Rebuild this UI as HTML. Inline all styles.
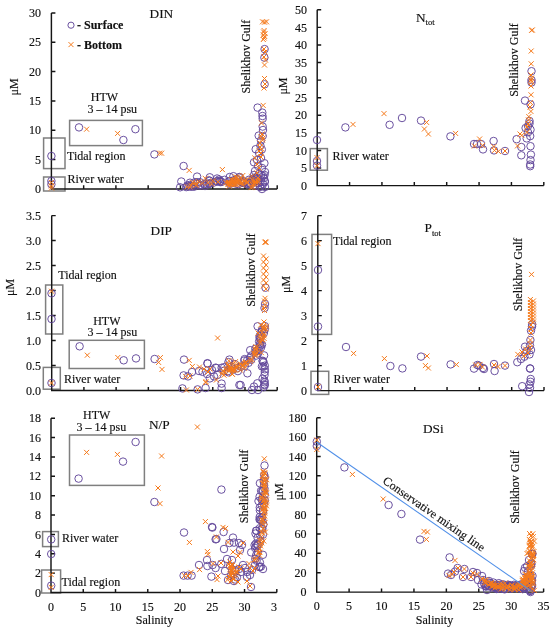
<!DOCTYPE html>
<html><head><meta charset="utf-8"><title>Nutrients vs salinity</title>
<style>html,body{margin:0;padding:0;background:#fff}svg{display:block}text{font-family:"Liberation Serif",serif;font-size:12px;fill:#111;stroke:#111;stroke-width:0.15px}</style></head>
<body>
<svg width="550" height="631" viewBox="0 0 550 631">
<rect width="550" height="631" fill="#fff"/>
<g fill="none" stroke="#7f7f7f" stroke-width="1.5">
<rect x="69.6" y="120.4" width="72.8" height="25.2"/>
<rect x="43.6" y="138" width="21.4" height="30.6"/>
<rect x="43.6" y="177" width="21.4" height="14.0"/>
<rect x="310.2" y="148.6" width="17.2" height="21.6"/>
<rect x="45.6" y="285" width="17.2" height="49.0"/>
<rect x="43.3" y="367.4" width="17.0" height="21.8"/>
<rect x="69.2" y="340.3" width="75.2" height="28.2"/>
<rect x="312" y="234.4" width="19.6" height="100.0"/>
<rect x="311" y="371.3" width="17.7" height="23.1"/>
<rect x="69.5" y="435" width="74.9" height="50.4"/>
<rect x="42.6" y="531.6" width="15.8" height="15.0"/>
<rect x="41.6" y="570" width="19.0" height="23.0"/>
</g>
<g fill="none" stroke="#151515" stroke-width="1.45">
<path d="M51.4 12.9V188.9H277.2M51.4 188.90h4M51.4 159.57h4M51.4 130.23h4M51.4 100.90h4M51.4 71.57h4M51.4 42.23h4M51.4 12.90h4M83.66 188.9v-3.6M115.91 188.9v-3.6M148.17 188.9v-3.6M180.43 188.9v-3.6M212.69 188.9v-3.6M244.94 188.9v-3.6M277.20 188.9v-3.6"/>
<path d="M317.2 9.8V185.6H543.8M317.2 185.60h4M317.2 168.02h4M317.2 150.44h4M317.2 132.86h4M317.2 115.28h4M317.2 97.70h4M317.2 80.12h4M317.2 62.54h4M317.2 44.96h4M317.2 27.38h4M317.2 9.80h4M349.57 185.6v-3.6M381.94 185.6v-3.6M414.31 185.6v-3.6M446.69 185.6v-3.6M479.06 185.6v-3.6M511.43 185.6v-3.6M543.80 185.6v-3.6"/>
<path d="M51.7 215.6V390.5H277.2M51.7 390.50h4M51.7 365.51h4M51.7 340.53h4M51.7 315.54h4M51.7 290.56h4M51.7 265.57h4M51.7 240.59h4M51.7 215.60h4M83.91 390.5v-3.6M116.13 390.5v-3.6M148.34 390.5v-3.6M180.56 390.5v-3.6M212.77 390.5v-3.6M244.99 390.5v-3.6M277.20 390.5v-3.6"/>
<path d="M317.8 215.6V390.6H544M317.8 390.60h4M317.8 365.60h4M317.8 340.60h4M317.8 315.60h4M317.8 290.60h4M317.8 265.60h4M317.8 240.60h4M317.8 215.60h4M350.11 390.6v-3.6M382.43 390.6v-3.6M414.74 390.6v-3.6M447.06 390.6v-3.6M479.37 390.6v-3.6M511.69 390.6v-3.6M544.00 390.6v-3.6"/>
<path d="M51.0 418.2V592.5H276.8M51.0 592.50h4M51.0 573.13h4M51.0 553.77h4M51.0 534.40h4M51.0 515.03h4M51.0 495.67h4M51.0 476.30h4M51.0 456.93h4M51.0 437.57h4M51.0 418.20h4M83.26 592.5v-3.6M115.51 592.5v-3.6M147.77 592.5v-3.6M180.03 592.5v-3.6M212.29 592.5v-3.6M244.54 592.5v-3.6M276.80 592.5v-3.6"/>
<path d="M316.7 417.7V592.1H543.6M316.7 592.10h4M316.7 572.72h4M316.7 553.34h4M316.7 533.97h4M316.7 514.59h4M316.7 495.21h4M316.7 475.83h4M316.7 456.46h4M316.7 437.08h4M316.7 417.70h4M349.11 592.1v-3.6M381.53 592.1v-3.6M413.94 592.1v-3.6M446.36 592.1v-3.6M478.77 592.1v-3.6M511.19 592.1v-3.6M543.60 592.1v-3.6"/>
</g>
<g fill="none" stroke="#63499b" stroke-width="0.95">
<circle cx="79.0" cy="127.4" r="3.75"/>
<circle cx="123.4" cy="140.0" r="3.75"/>
<circle cx="135.4" cy="129.2" r="3.75"/>
<circle cx="51.4" cy="156.0" r="3.75"/>
<circle cx="51.4" cy="181.0" r="3.75"/>
<circle cx="51.4" cy="184.4" r="3.75"/>
<circle cx="154.4" cy="154.4" r="3.75"/>
<circle cx="183.6" cy="166.0" r="3.75"/>
<circle cx="257.6" cy="107.6" r="3.75"/>
<circle cx="264.6" cy="49.1" r="3.75"/>
<circle cx="264.4" cy="57.6" r="3.75"/>
<circle cx="264.6" cy="84.3" r="3.75"/>
<circle cx="262.3" cy="112.6" r="3.75"/>
<circle cx="262.5" cy="116.0" r="3.75"/>
<circle cx="262.7" cy="118.7" r="3.75"/>
<circle cx="262.7" cy="126.6" r="3.75"/>
<circle cx="263.0" cy="130.0" r="3.75"/>
<circle cx="258.7" cy="135.6" r="3.75"/>
<circle cx="262.7" cy="136.0" r="3.75"/>
<circle cx="261.0" cy="140.5" r="3.75"/>
<circle cx="260.4" cy="145.7" r="3.75"/>
<circle cx="255.7" cy="149.2" r="3.75"/>
<circle cx="261.8" cy="149.5" r="3.75"/>
<circle cx="259.0" cy="153.0" r="3.75"/>
<circle cx="254.0" cy="162.3" r="3.75"/>
<circle cx="264.4" cy="163.2" r="3.75"/>
<circle cx="258.0" cy="166.0" r="3.75"/>
<circle cx="262.0" cy="168.0" r="3.75"/>
<circle cx="255.0" cy="171.0" r="3.75"/>
<circle cx="265.0" cy="172.0" r="3.75"/>
<circle cx="259.0" cy="174.0" r="3.75"/>
<circle cx="263.0" cy="176.0" r="3.75"/>
<circle cx="256.0" cy="178.0" r="3.75"/>
<circle cx="261.0" cy="180.0" r="3.75"/>
<circle cx="264.8" cy="181.0" r="3.75"/>
<circle cx="258.0" cy="183.0" r="3.75"/>
<circle cx="263.0" cy="184.0" r="3.75"/>
<circle cx="255.0" cy="185.0" r="3.75"/>
<circle cx="260.0" cy="187.0" r="3.75"/>
<circle cx="265.0" cy="187.0" r="3.75"/>
<circle cx="262.0" cy="189.0" r="3.75"/>
<circle cx="253.0" cy="180.0" r="3.75"/>
<circle cx="251.0" cy="184.0" r="3.75"/>
<circle cx="257.0" cy="160.0" r="3.75"/>
<circle cx="261.0" cy="158.0" r="3.75"/>
<circle cx="264.0" cy="178.0" r="3.75"/>
<circle cx="264.5" cy="175.0" r="3.75"/>
<circle cx="254.0" cy="175.0" r="3.75"/>
<circle cx="186.2" cy="187.1" r="3.75"/>
<circle cx="180.1" cy="187.3" r="3.75"/>
<circle cx="181.3" cy="181.5" r="3.75"/>
<circle cx="187.6" cy="185.7" r="3.75"/>
<circle cx="188.6" cy="186.7" r="3.75"/>
<circle cx="191.0" cy="186.5" r="3.75"/>
<circle cx="189.4" cy="185.0" r="3.75"/>
<circle cx="190.0" cy="182.7" r="3.75"/>
<circle cx="190.7" cy="185.5" r="3.75"/>
<circle cx="194.1" cy="186.7" r="3.75"/>
<circle cx="195.0" cy="182.3" r="3.75"/>
<circle cx="191.9" cy="186.5" r="3.75"/>
<circle cx="200.7" cy="185.0" r="3.75"/>
<circle cx="199.9" cy="182.2" r="3.75"/>
<circle cx="197.1" cy="182.2" r="3.75"/>
<circle cx="197.4" cy="183.9" r="3.75"/>
<circle cx="197.1" cy="176.6" r="3.75"/>
<circle cx="199.7" cy="185.5" r="3.75"/>
<circle cx="204.5" cy="183.9" r="3.75"/>
<circle cx="206.6" cy="183.9" r="3.75"/>
<circle cx="208.9" cy="183.6" r="3.75"/>
<circle cx="209.8" cy="177.3" r="3.75"/>
<circle cx="205.0" cy="186.0" r="3.75"/>
<circle cx="209.9" cy="183.4" r="3.75"/>
<circle cx="209.0" cy="180.4" r="3.75"/>
<circle cx="209.5" cy="183.8" r="3.75"/>
<circle cx="209.7" cy="180.8" r="3.75"/>
<circle cx="217.1" cy="178.5" r="3.75"/>
<circle cx="213.6" cy="182.6" r="3.75"/>
<circle cx="217.4" cy="181.2" r="3.75"/>
<circle cx="216.7" cy="181.5" r="3.75"/>
<circle cx="220.2" cy="182.1" r="3.75"/>
<circle cx="219.1" cy="179.5" r="3.75"/>
<circle cx="219.9" cy="181.4" r="3.75"/>
<circle cx="219.8" cy="180.9" r="3.75"/>
<circle cx="221.7" cy="181.9" r="3.75"/>
<circle cx="230.0" cy="181.0" r="3.75"/>
<circle cx="224.5" cy="179.8" r="3.75"/>
<circle cx="229.7" cy="177.0" r="3.75"/>
<circle cx="229.8" cy="183.9" r="3.75"/>
<circle cx="228.4" cy="181.6" r="3.75"/>
<circle cx="233.4" cy="176.2" r="3.75"/>
<circle cx="231.9" cy="183.1" r="3.75"/>
<circle cx="233.8" cy="180.4" r="3.75"/>
<circle cx="236.4" cy="179.2" r="3.75"/>
<circle cx="237.5" cy="179.3" r="3.75"/>
<circle cx="236.1" cy="181.7" r="3.75"/>
<circle cx="239.0" cy="177.5" r="3.75"/>
<circle cx="241.6" cy="181.9" r="3.75"/>
<circle cx="239.6" cy="177.0" r="3.75"/>
<circle cx="238.5" cy="184.1" r="3.75"/>
<circle cx="236.5" cy="183.8" r="3.75"/>
<circle cx="243.3" cy="181.2" r="3.75"/>
<circle cx="247.0" cy="184.1" r="3.75"/>
<circle cx="243.3" cy="183.0" r="3.75"/>
<circle cx="249.1" cy="179.7" r="3.75"/>
<circle cx="243.1" cy="182.6" r="3.75"/>
<circle cx="248.1" cy="182.7" r="3.75"/>
<circle cx="249.5" cy="183.3" r="3.75"/>
<circle cx="249.5" cy="183.0" r="3.75"/>
<circle cx="247.4" cy="183.6" r="3.75"/>
<circle cx="252.6" cy="180.8" r="3.75"/>
<circle cx="258.3" cy="181.0" r="3.75"/>
<circle cx="254.8" cy="177.7" r="3.75"/>
<circle cx="252.3" cy="179.3" r="3.75"/>
<circle cx="257.7" cy="182.8" r="3.75"/>
<circle cx="254.8" cy="179.0" r="3.75"/>
<circle cx="257.5" cy="178.5" r="3.75"/>
<circle cx="258.3" cy="181.3" r="3.75"/>
<circle cx="261.0" cy="175.2" r="3.75"/>
<circle cx="257.4" cy="177.9" r="3.75"/>
<circle cx="264.8" cy="182.0" r="3.75"/>
<circle cx="317.0" cy="140.0" r="3.75"/>
<circle cx="317.0" cy="161.0" r="3.75"/>
<circle cx="317.0" cy="165.6" r="3.75"/>
<circle cx="345.4" cy="127.4" r="3.75"/>
<circle cx="389.6" cy="124.8" r="3.75"/>
<circle cx="402.0" cy="118.0" r="3.75"/>
<circle cx="421.0" cy="120.6" r="3.75"/>
<circle cx="450.4" cy="136.4" r="3.75"/>
<circle cx="474.0" cy="144.0" r="3.75"/>
<circle cx="477.0" cy="144.0" r="3.75"/>
<circle cx="481.0" cy="144.0" r="3.75"/>
<circle cx="483.0" cy="149.4" r="3.75"/>
<circle cx="493.6" cy="141.0" r="3.75"/>
<circle cx="494.0" cy="150.4" r="3.75"/>
<circle cx="505.0" cy="151.0" r="3.75"/>
<circle cx="531.5" cy="71.2" r="3.75"/>
<circle cx="531.5" cy="80.0" r="3.75"/>
<circle cx="531.5" cy="82.5" r="3.75"/>
<circle cx="525.0" cy="100.6" r="3.75"/>
<circle cx="530.5" cy="104.4" r="3.75"/>
<circle cx="529.5" cy="121.0" r="3.75"/>
<circle cx="529.5" cy="123.5" r="3.75"/>
<circle cx="528.0" cy="126.0" r="3.75"/>
<circle cx="525.6" cy="128.0" r="3.75"/>
<circle cx="530.5" cy="129.7" r="3.75"/>
<circle cx="528.0" cy="132.3" r="3.75"/>
<circle cx="530.2" cy="136.1" r="3.75"/>
<circle cx="526.7" cy="138.4" r="3.75"/>
<circle cx="516.6" cy="139.2" r="3.75"/>
<circle cx="521.3" cy="147.0" r="3.75"/>
<circle cx="530.5" cy="146.2" r="3.75"/>
<circle cx="521.3" cy="155.3" r="3.75"/>
<circle cx="530.9" cy="154.6" r="3.75"/>
<circle cx="530.5" cy="160.1" r="3.75"/>
<circle cx="530.2" cy="164.5" r="3.75"/>
<circle cx="530.2" cy="166.2" r="3.75"/>
<circle cx="51.5" cy="293.3" r="3.75"/>
<circle cx="51.5" cy="319.0" r="3.75"/>
<circle cx="51.5" cy="383.0" r="3.75"/>
<circle cx="79.6" cy="346.3" r="3.75"/>
<circle cx="123.7" cy="360.3" r="3.75"/>
<circle cx="136.0" cy="358.4" r="3.75"/>
<circle cx="154.6" cy="359.0" r="3.75"/>
<circle cx="184.0" cy="359.6" r="3.75"/>
<circle cx="192.0" cy="372.0" r="3.75"/>
<circle cx="183.6" cy="375.4" r="3.75"/>
<circle cx="188.0" cy="376.4" r="3.75"/>
<circle cx="199.0" cy="371.0" r="3.75"/>
<circle cx="207.6" cy="363.6" r="3.75"/>
<circle cx="207.0" cy="374.0" r="3.75"/>
<circle cx="212.0" cy="370.0" r="3.75"/>
<circle cx="214.0" cy="376.4" r="3.75"/>
<circle cx="216.4" cy="368.0" r="3.75"/>
<circle cx="217.4" cy="375.0" r="3.75"/>
<circle cx="182.4" cy="388.4" r="3.75"/>
<circle cx="197.6" cy="389.4" r="3.75"/>
<circle cx="205.6" cy="388.0" r="3.75"/>
<circle cx="221.6" cy="383.6" r="3.75"/>
<circle cx="221.6" cy="388.0" r="3.75"/>
<circle cx="229.4" cy="359.6" r="3.75"/>
<circle cx="239.4" cy="385.0" r="3.75"/>
<circle cx="250.2" cy="350.2" r="3.75"/>
<circle cx="257.6" cy="326.3" r="3.75"/>
<circle cx="207.4" cy="363.2" r="3.75"/>
<circle cx="202.5" cy="371.8" r="3.75"/>
<circle cx="209.8" cy="378.4" r="3.75"/>
<circle cx="215.5" cy="367.7" r="3.75"/>
<circle cx="240.6" cy="385.0" r="3.75"/>
<circle cx="254.0" cy="386.6" r="3.75"/>
<circle cx="257.3" cy="383.3" r="3.75"/>
<circle cx="252.0" cy="390.0" r="3.75"/>
<circle cx="258.0" cy="390.0" r="3.75"/>
<circle cx="265.5" cy="287.7" r="3.75"/>
<circle cx="265.0" cy="304.0" r="3.75"/>
<circle cx="264.5" cy="308.0" r="3.75"/>
<circle cx="224.1" cy="370.7" r="3.75"/>
<circle cx="224.3" cy="367.1" r="3.75"/>
<circle cx="221.6" cy="367.8" r="3.75"/>
<circle cx="228.5" cy="372.3" r="3.75"/>
<circle cx="227.8" cy="371.2" r="3.75"/>
<circle cx="228.4" cy="362.1" r="3.75"/>
<circle cx="233.3" cy="369.5" r="3.75"/>
<circle cx="234.9" cy="364.1" r="3.75"/>
<circle cx="231.3" cy="366.8" r="3.75"/>
<circle cx="237.9" cy="371.1" r="3.75"/>
<circle cx="240.8" cy="366.7" r="3.75"/>
<circle cx="237.4" cy="368.1" r="3.75"/>
<circle cx="244.3" cy="360.5" r="3.75"/>
<circle cx="247.4" cy="373.3" r="3.75"/>
<circle cx="244.8" cy="365.8" r="3.75"/>
<circle cx="244.6" cy="359.1" r="3.75"/>
<circle cx="247.3" cy="360.1" r="3.75"/>
<circle cx="248.5" cy="362.8" r="3.75"/>
<circle cx="249.9" cy="358.0" r="3.75"/>
<circle cx="251.3" cy="359.8" r="3.75"/>
<circle cx="251.3" cy="355.5" r="3.75"/>
<circle cx="256.1" cy="355.6" r="3.75"/>
<circle cx="255.5" cy="351.5" r="3.75"/>
<circle cx="258.0" cy="353.5" r="3.75"/>
<circle cx="260.2" cy="345.8" r="3.75"/>
<circle cx="257.1" cy="350.6" r="3.75"/>
<circle cx="261.0" cy="347.5" r="3.75"/>
<circle cx="255.3" cy="348.7" r="3.75"/>
<circle cx="258.6" cy="348.7" r="3.75"/>
<circle cx="262.0" cy="344.6" r="3.75"/>
<circle cx="260.2" cy="343.9" r="3.75"/>
<circle cx="260.5" cy="342.7" r="3.75"/>
<circle cx="259.6" cy="337.9" r="3.75"/>
<circle cx="259.1" cy="341.5" r="3.75"/>
<circle cx="260.6" cy="338.3" r="3.75"/>
<circle cx="261.1" cy="334.5" r="3.75"/>
<circle cx="259.6" cy="336.0" r="3.75"/>
<circle cx="263.9" cy="332.9" r="3.75"/>
<circle cx="261.4" cy="331.6" r="3.75"/>
<circle cx="264.8" cy="329.3" r="3.75"/>
<circle cx="262.0" cy="329.8" r="3.75"/>
<circle cx="264.8" cy="326.1" r="3.75"/>
<circle cx="264.1" cy="355.4" r="3.75"/>
<circle cx="262.6" cy="361.2" r="3.75"/>
<circle cx="263.6" cy="362.2" r="3.75"/>
<circle cx="262.8" cy="360.8" r="3.75"/>
<circle cx="263.4" cy="366.8" r="3.75"/>
<circle cx="261.9" cy="366.4" r="3.75"/>
<circle cx="264.8" cy="365.7" r="3.75"/>
<circle cx="264.8" cy="369.3" r="3.75"/>
<circle cx="264.8" cy="371.9" r="3.75"/>
<circle cx="264.5" cy="375.1" r="3.75"/>
<circle cx="262.6" cy="378.7" r="3.75"/>
<circle cx="264.4" cy="380.6" r="3.75"/>
<circle cx="264.7" cy="382.3" r="3.75"/>
<circle cx="264.8" cy="385.2" r="3.75"/>
<circle cx="264.5" cy="384.3" r="3.75"/>
<circle cx="263.6" cy="387.2" r="3.75"/>
<circle cx="318.0" cy="270.0" r="3.75"/>
<circle cx="318.0" cy="326.5" r="3.75"/>
<circle cx="318.0" cy="387.0" r="3.75"/>
<circle cx="346.0" cy="347.0" r="3.75"/>
<circle cx="390.4" cy="366.0" r="3.75"/>
<circle cx="402.4" cy="368.4" r="3.75"/>
<circle cx="421.0" cy="356.6" r="3.75"/>
<circle cx="450.6" cy="364.4" r="3.75"/>
<circle cx="474.0" cy="368.6" r="3.75"/>
<circle cx="477.4" cy="365.0" r="3.75"/>
<circle cx="479.0" cy="365.6" r="3.75"/>
<circle cx="483.0" cy="368.0" r="3.75"/>
<circle cx="484.0" cy="369.0" r="3.75"/>
<circle cx="494.0" cy="364.0" r="3.75"/>
<circle cx="494.6" cy="371.0" r="3.75"/>
<circle cx="505.0" cy="365.6" r="3.75"/>
<circle cx="532.2" cy="324.4" r="3.75"/>
<circle cx="532.0" cy="326.7" r="3.75"/>
<circle cx="531.0" cy="330.7" r="3.75"/>
<circle cx="530.4" cy="340.0" r="3.75"/>
<circle cx="525.0" cy="346.7" r="3.75"/>
<circle cx="530.0" cy="345.5" r="3.75"/>
<circle cx="531.0" cy="350.0" r="3.75"/>
<circle cx="526.7" cy="351.0" r="3.75"/>
<circle cx="529.5" cy="354.4" r="3.75"/>
<circle cx="524.4" cy="356.7" r="3.75"/>
<circle cx="521.0" cy="359.0" r="3.75"/>
<circle cx="517.3" cy="362.2" r="3.75"/>
<circle cx="530.0" cy="368.4" r="3.75"/>
<circle cx="530.2" cy="368.6" r="3.75"/>
<circle cx="530.7" cy="379.0" r="3.75"/>
<circle cx="530.5" cy="381.8" r="3.75"/>
<circle cx="529.5" cy="384.4" r="3.75"/>
<circle cx="522.2" cy="386.2" r="3.75"/>
<circle cx="530.0" cy="387.8" r="3.75"/>
<circle cx="529.0" cy="392.0" r="3.75"/>
<circle cx="51.2" cy="539.4" r="3.75"/>
<circle cx="51.2" cy="554.0" r="3.75"/>
<circle cx="51.2" cy="585.6" r="3.75"/>
<circle cx="135.6" cy="442.0" r="3.75"/>
<circle cx="123.0" cy="461.6" r="3.75"/>
<circle cx="78.6" cy="478.6" r="3.75"/>
<circle cx="154.4" cy="502.0" r="3.75"/>
<circle cx="221.4" cy="489.6" r="3.75"/>
<circle cx="212.0" cy="527.0" r="3.75"/>
<circle cx="184.0" cy="532.5" r="3.75"/>
<circle cx="212.4" cy="527.6" r="3.75"/>
<circle cx="216.4" cy="539.0" r="3.75"/>
<circle cx="215.6" cy="539.3" r="3.75"/>
<circle cx="223.6" cy="532.0" r="3.75"/>
<circle cx="233.0" cy="537.6" r="3.75"/>
<circle cx="229.4" cy="543.0" r="3.75"/>
<circle cx="224.0" cy="549.0" r="3.75"/>
<circle cx="234.0" cy="542.6" r="3.75"/>
<circle cx="239.0" cy="543.0" r="3.75"/>
<circle cx="242.0" cy="545.0" r="3.75"/>
<circle cx="240.0" cy="550.0" r="3.75"/>
<circle cx="207.0" cy="560.0" r="3.75"/>
<circle cx="199.0" cy="565.0" r="3.75"/>
<circle cx="207.4" cy="566.0" r="3.75"/>
<circle cx="212.6" cy="565.0" r="3.75"/>
<circle cx="215.6" cy="568.0" r="3.75"/>
<circle cx="211.4" cy="576.6" r="3.75"/>
<circle cx="183.6" cy="575.6" r="3.75"/>
<circle cx="187.6" cy="575.6" r="3.75"/>
<circle cx="191.6" cy="575.6" r="3.75"/>
<circle cx="227.0" cy="559.0" r="3.75"/>
<circle cx="232.0" cy="560.0" r="3.75"/>
<circle cx="225.0" cy="571.0" r="3.75"/>
<circle cx="228.0" cy="580.0" r="3.75"/>
<circle cx="231.0" cy="576.0" r="3.75"/>
<circle cx="234.0" cy="581.0" r="3.75"/>
<circle cx="230.0" cy="566.0" r="3.75"/>
<circle cx="239.0" cy="569.0" r="3.75"/>
<circle cx="243.0" cy="565.0" r="3.75"/>
<circle cx="245.0" cy="568.0" r="3.75"/>
<circle cx="241.0" cy="572.0" r="3.75"/>
<circle cx="247.0" cy="572.0" r="3.75"/>
<circle cx="250.0" cy="575.0" r="3.75"/>
<circle cx="247.0" cy="577.0" r="3.75"/>
<circle cx="252.0" cy="570.0" r="3.75"/>
<circle cx="251.0" cy="587.0" r="3.75"/>
<circle cx="255.0" cy="565.0" r="3.75"/>
<circle cx="263.0" cy="569.0" r="3.75"/>
<circle cx="264.5" cy="465.5" r="3.75"/>
<circle cx="221.3" cy="563.9" r="3.75"/>
<circle cx="235.2" cy="570.1" r="3.75"/>
<circle cx="235.4" cy="571.5" r="3.75"/>
<circle cx="236.9" cy="577.4" r="3.75"/>
<circle cx="233.3" cy="574.7" r="3.75"/>
<circle cx="235.2" cy="579.5" r="3.75"/>
<circle cx="264.8" cy="477.5" r="3.75"/>
<circle cx="263.7" cy="481.1" r="3.75"/>
<circle cx="264.2" cy="474.8" r="3.75"/>
<circle cx="259.9" cy="483.2" r="3.75"/>
<circle cx="264.5" cy="488.6" r="3.75"/>
<circle cx="264.1" cy="485.2" r="3.75"/>
<circle cx="262.3" cy="491.2" r="3.75"/>
<circle cx="261.1" cy="490.8" r="3.75"/>
<circle cx="264.8" cy="494.5" r="3.75"/>
<circle cx="263.1" cy="490.7" r="3.75"/>
<circle cx="259.6" cy="496.7" r="3.75"/>
<circle cx="264.8" cy="500.4" r="3.75"/>
<circle cx="262.4" cy="499.9" r="3.75"/>
<circle cx="258.5" cy="501.1" r="3.75"/>
<circle cx="261.8" cy="505.5" r="3.75"/>
<circle cx="261.6" cy="499.6" r="3.75"/>
<circle cx="259.8" cy="507.5" r="3.75"/>
<circle cx="263.8" cy="503.5" r="3.75"/>
<circle cx="262.9" cy="511.5" r="3.75"/>
<circle cx="259.9" cy="510.3" r="3.75"/>
<circle cx="262.9" cy="510.8" r="3.75"/>
<circle cx="259.7" cy="517.0" r="3.75"/>
<circle cx="262.2" cy="517.2" r="3.75"/>
<circle cx="259.5" cy="519.4" r="3.75"/>
<circle cx="260.2" cy="519.7" r="3.75"/>
<circle cx="260.9" cy="520.1" r="3.75"/>
<circle cx="263.4" cy="524.4" r="3.75"/>
<circle cx="262.4" cy="520.7" r="3.75"/>
<circle cx="262.4" cy="528.7" r="3.75"/>
<circle cx="261.7" cy="528.9" r="3.75"/>
<circle cx="256.4" cy="530.7" r="3.75"/>
<circle cx="256.2" cy="530.8" r="3.75"/>
<circle cx="262.9" cy="534.7" r="3.75"/>
<circle cx="259.8" cy="528.2" r="3.75"/>
<circle cx="255.5" cy="533.5" r="3.75"/>
<circle cx="260.4" cy="541.0" r="3.75"/>
<circle cx="260.3" cy="535.6" r="3.75"/>
<circle cx="257.6" cy="537.8" r="3.75"/>
<circle cx="257.7" cy="545.3" r="3.75"/>
<circle cx="254.6" cy="545.2" r="3.75"/>
<circle cx="257.5" cy="544.4" r="3.75"/>
<circle cx="255.1" cy="548.0" r="3.75"/>
<circle cx="256.0" cy="543.5" r="3.75"/>
<circle cx="256.3" cy="546.4" r="3.75"/>
<circle cx="251.2" cy="552.4" r="3.75"/>
<circle cx="257.6" cy="552.6" r="3.75"/>
<circle cx="262.9" cy="554.8" r="3.75"/>
<circle cx="256.2" cy="555.1" r="3.75"/>
<circle cx="255.3" cy="558.9" r="3.75"/>
<circle cx="256.6" cy="560.7" r="3.75"/>
<circle cx="260.9" cy="566.6" r="3.75"/>
<circle cx="259.9" cy="562.4" r="3.75"/>
<circle cx="259.3" cy="567.0" r="3.75"/>
<circle cx="259.6" cy="567.0" r="3.75"/>
<circle cx="316.8" cy="441.6" r="3.75"/>
<circle cx="316.8" cy="446.0" r="3.75"/>
<circle cx="344.4" cy="467.4" r="3.75"/>
<circle cx="388.6" cy="505.0" r="3.75"/>
<circle cx="401.4" cy="514.0" r="3.75"/>
<circle cx="420.0" cy="539.6" r="3.75"/>
<circle cx="449.6" cy="557.4" r="3.75"/>
<circle cx="448.0" cy="573.6" r="3.75"/>
<circle cx="451.0" cy="575.0" r="3.75"/>
<circle cx="455.0" cy="571.6" r="3.75"/>
<circle cx="457.6" cy="568.0" r="3.75"/>
<circle cx="464.4" cy="569.0" r="3.75"/>
<circle cx="463.0" cy="577.0" r="3.75"/>
<circle cx="473.0" cy="572.0" r="3.75"/>
<circle cx="471.0" cy="577.0" r="3.75"/>
<circle cx="477.0" cy="573.0" r="3.75"/>
<circle cx="478.0" cy="580.0" r="3.75"/>
<circle cx="482.0" cy="576.0" r="3.75"/>
<circle cx="483.0" cy="580.0" r="3.75"/>
<circle cx="487.0" cy="590.0" r="3.75"/>
<circle cx="489.0" cy="581.0" r="3.75"/>
<circle cx="481.5" cy="584.4" r="3.75"/>
<circle cx="485.3" cy="586.1" r="3.75"/>
<circle cx="486.2" cy="586.6" r="3.75"/>
<circle cx="488.3" cy="585.7" r="3.75"/>
<circle cx="484.3" cy="584.1" r="3.75"/>
<circle cx="485.9" cy="586.0" r="3.75"/>
<circle cx="486.5" cy="584.3" r="3.75"/>
<circle cx="489.3" cy="582.6" r="3.75"/>
<circle cx="487.9" cy="585.2" r="3.75"/>
<circle cx="492.8" cy="584.4" r="3.75"/>
<circle cx="489.5" cy="586.5" r="3.75"/>
<circle cx="490.0" cy="583.3" r="3.75"/>
<circle cx="495.3" cy="586.1" r="3.75"/>
<circle cx="494.7" cy="587.7" r="3.75"/>
<circle cx="497.4" cy="585.4" r="3.75"/>
<circle cx="494.1" cy="585.9" r="3.75"/>
<circle cx="493.5" cy="586.4" r="3.75"/>
<circle cx="496.8" cy="589.0" r="3.75"/>
<circle cx="493.3" cy="582.5" r="3.75"/>
<circle cx="497.0" cy="588.6" r="3.75"/>
<circle cx="492.7" cy="587.5" r="3.75"/>
<circle cx="497.0" cy="587.2" r="3.75"/>
<circle cx="496.3" cy="586.5" r="3.75"/>
<circle cx="494.4" cy="585.7" r="3.75"/>
<circle cx="496.5" cy="587.2" r="3.75"/>
<circle cx="498.2" cy="588.2" r="3.75"/>
<circle cx="497.9" cy="585.0" r="3.75"/>
<circle cx="498.8" cy="583.2" r="3.75"/>
<circle cx="499.3" cy="586.9" r="3.75"/>
<circle cx="501.1" cy="584.5" r="3.75"/>
<circle cx="501.2" cy="588.5" r="3.75"/>
<circle cx="503.8" cy="588.9" r="3.75"/>
<circle cx="504.6" cy="585.7" r="3.75"/>
<circle cx="502.7" cy="587.0" r="3.75"/>
<circle cx="503.3" cy="584.4" r="3.75"/>
<circle cx="504.7" cy="589.3" r="3.75"/>
<circle cx="509.6" cy="587.7" r="3.75"/>
<circle cx="508.5" cy="587.5" r="3.75"/>
<circle cx="509.7" cy="585.8" r="3.75"/>
<circle cx="510.6" cy="585.7" r="3.75"/>
<circle cx="508.0" cy="584.7" r="3.75"/>
<circle cx="508.1" cy="585.3" r="3.75"/>
<circle cx="510.0" cy="587.4" r="3.75"/>
<circle cx="509.8" cy="585.6" r="3.75"/>
<circle cx="510.0" cy="586.5" r="3.75"/>
<circle cx="511.0" cy="588.7" r="3.75"/>
<circle cx="515.2" cy="587.8" r="3.75"/>
<circle cx="513.9" cy="584.8" r="3.75"/>
<circle cx="515.7" cy="587.2" r="3.75"/>
<circle cx="516.9" cy="586.8" r="3.75"/>
<circle cx="513.9" cy="586.0" r="3.75"/>
<circle cx="518.4" cy="587.0" r="3.75"/>
<circle cx="520.0" cy="588.7" r="3.75"/>
<circle cx="516.3" cy="585.4" r="3.75"/>
<circle cx="520.6" cy="587.6" r="3.75"/>
<circle cx="518.2" cy="585.7" r="3.75"/>
<circle cx="514.3" cy="587.4" r="3.75"/>
<circle cx="519.5" cy="586.0" r="3.75"/>
<circle cx="520.4" cy="585.5" r="3.75"/>
<circle cx="522.7" cy="589.1" r="3.75"/>
<circle cx="519.1" cy="587.8" r="3.75"/>
<circle cx="524.1" cy="588.4" r="3.75"/>
<circle cx="521.0" cy="584.4" r="3.75"/>
<circle cx="526.5" cy="584.6" r="3.75"/>
<circle cx="528.5" cy="587.4" r="3.75"/>
<circle cx="523.1" cy="587.6" r="3.75"/>
<circle cx="523.7" cy="584.4" r="3.75"/>
<circle cx="523.5" cy="587.1" r="3.75"/>
<circle cx="526.9" cy="583.7" r="3.75"/>
<circle cx="524.2" cy="586.2" r="3.75"/>
<circle cx="532.5" cy="553.7" r="3.75"/>
<circle cx="531.3" cy="563.6" r="3.75"/>
<circle cx="531.3" cy="564.3" r="3.75"/>
<circle cx="527.1" cy="566.2" r="3.75"/>
<circle cx="525.0" cy="567.8" r="3.75"/>
<circle cx="528.1" cy="571.3" r="3.75"/>
<circle cx="529.1" cy="576.2" r="3.75"/>
<circle cx="532.5" cy="575.9" r="3.75"/>
<circle cx="531.5" cy="581.3" r="3.75"/>
<circle cx="528.3" cy="581.7" r="3.75"/>
<circle cx="531.9" cy="586.3" r="3.75"/>
<circle cx="526.3" cy="583.7" r="3.75"/>
<circle cx="532.0" cy="554.0" r="3.75"/>
<circle cx="529.0" cy="560.0" r="3.75"/>
<circle cx="524.0" cy="571.0" r="3.75"/>
<circle cx="530.0" cy="591.0" r="3.75"/>
<circle cx="530.5" cy="590.5" r="3.75"/>
<circle cx="532.0" cy="585.0" r="3.75"/>
<circle cx="531.0" cy="566.0" r="3.75"/>
<circle cx="530.0" cy="575.0" r="3.75"/>
<circle cx="532.0" cy="580.0" r="3.75"/>
<circle cx="528.0" cy="584.0" r="3.75"/>
<circle cx="531.0" cy="587.0" r="3.75"/>
<circle cx="530.5" cy="592.0" r="3.75"/>
<circle cx="529.5" cy="590.0" r="3.75"/>
<circle cx="71.0" cy="25.2" r="3.1"/>
</g>
<g fill="none" stroke="#f57a1c" stroke-width="1.0">
<path d="M68.5 42.1L73.5 47.1M68.5 47.1L73.5 42.1"/>
<path d="M84.1 126.7L89.1 131.7M84.1 131.7L89.1 126.7"/>
<path d="M115.1 130.9L120.1 135.9M115.1 135.9L120.1 130.9"/>
<path d="M48.9 180.0L53.9 185.0M48.9 185.0L53.9 180.0"/>
<path d="M48.9 183.5L53.9 188.5M48.9 188.5L53.9 183.5"/>
<path d="M48.9 185.5L53.9 190.5M48.9 190.5L53.9 185.5"/>
<path d="M157.1 150.7L162.1 155.7M157.1 155.7L162.1 150.7"/>
<path d="M159.1 150.7L164.1 155.7M159.1 155.7L164.1 150.7"/>
<path d="M186.7 167.9L191.7 172.9M186.7 172.9L191.7 167.9"/>
<path d="M219.9 167.1L224.9 172.1M219.9 172.1L224.9 167.1"/>
<path d="M260.7 102.9L265.7 107.9M260.7 107.9L265.7 102.9"/>
<path d="M260.0 19.3L265.0 24.3M260.0 24.3L265.0 19.3"/>
<path d="M264.0 19.3L269.0 24.3M264.0 24.3L269.0 19.3"/>
<path d="M262.0 19.7L267.0 24.7M262.0 24.7L267.0 19.7"/>
<path d="M261.6 28.0L266.6 33.0M261.6 33.0L266.6 28.0"/>
<path d="M261.1 29.5L266.1 34.5M261.1 34.5L266.1 29.5"/>
<path d="M262.6 31.0L267.6 36.0M262.6 36.0L267.6 31.0"/>
<path d="M260.8 32.5L265.8 37.5M260.8 37.5L265.8 32.5"/>
<path d="M262.2 34.0L267.2 39.0M262.2 39.0L267.2 34.0"/>
<path d="M261.7 35.5L266.7 40.5M261.7 40.5L266.7 35.5"/>
<path d="M260.8 37.0L265.8 42.0M260.8 42.0L265.8 37.0"/>
<path d="M261.5 46.5L266.5 51.5M261.5 51.5L266.5 46.5"/>
<path d="M262.5 49.5L267.5 54.5M262.5 54.5L267.5 49.5"/>
<path d="M261.5 54.5L266.5 59.5M261.5 59.5L266.5 54.5"/>
<path d="M263.0 57.5L268.0 62.5M263.0 62.5L268.0 57.5"/>
<path d="M262.0 62.5L267.0 67.5M262.0 67.5L267.0 62.5"/>
<path d="M262.0 76.0L267.0 81.0M262.0 81.0L267.0 76.0"/>
<path d="M262.5 81.5L267.5 86.5M262.5 86.5L267.5 81.5"/>
<path d="M261.5 85.5L266.5 90.5M261.5 90.5L266.5 85.5"/>
<path d="M259.0 120.5L264.0 125.5M259.0 125.5L264.0 120.5"/>
<path d="M259.5 131.5L264.5 136.5M259.5 136.5L264.5 131.5"/>
<path d="M258.5 134.0L263.5 139.0M258.5 139.0L263.5 134.0"/>
<path d="M260.5 135.5L265.5 140.5M260.5 140.5L265.5 135.5"/>
<path d="M257.5 144.5L262.5 149.5M257.5 149.5L262.5 144.5"/>
<path d="M259.0 146.5L264.0 151.5M259.0 151.5L264.0 146.5"/>
<path d="M256.5 148.5L261.5 153.5M256.5 153.5L261.5 148.5"/>
<path d="M258.5 150.5L263.5 155.5M258.5 155.5L263.5 150.5"/>
<path d="M252.3 155.5L257.3 160.5M252.3 160.5L257.3 155.5"/>
<path d="M258.5 154.5L263.5 159.5M258.5 159.5L263.5 154.5"/>
<path d="M254.5 161.5L259.5 166.5M254.5 166.5L259.5 161.5"/>
<path d="M256.5 165.5L261.5 170.5M256.5 170.5L261.5 165.5"/>
<path d="M254.5 170.5L259.5 175.5M254.5 175.5L259.5 170.5"/>
<path d="M255.5 175.5L260.5 180.5M255.5 180.5L260.5 175.5"/>
<path d="M253.5 179.5L258.5 184.5M253.5 184.5L258.5 179.5"/>
<path d="M257.5 140.5L262.5 145.5M257.5 145.5L262.5 140.5"/>
<path d="M260.0 137.5L265.0 142.5M260.0 142.5L265.0 137.5"/>
<path d="M184.7 184.3L189.7 189.3M184.7 189.3L189.7 184.3"/>
<path d="M187.5 184.5L192.5 189.5M187.5 189.5L192.5 184.5"/>
<path d="M190.1 179.9L195.1 184.9M190.1 184.9L195.1 179.9"/>
<path d="M188.4 182.8L193.4 187.8M188.4 187.8L193.4 182.8"/>
<path d="M193.3 182.8L198.3 187.8M193.3 187.8L198.3 182.8"/>
<path d="M193.9 182.4L198.9 187.4M193.9 187.4L198.9 182.4"/>
<path d="M192.8 180.4L197.8 185.4M192.8 185.4L197.8 180.4"/>
<path d="M196.0 179.1L201.0 184.1M196.0 184.1L201.0 179.1"/>
<path d="M202.7 175.8L207.7 180.8M202.7 180.8L207.7 175.8"/>
<path d="M205.4 180.2L210.4 185.2M205.4 185.2L210.4 180.2"/>
<path d="M200.0 180.7L205.0 185.7M200.0 185.7L205.0 180.7"/>
<path d="M209.1 181.4L214.1 186.4M209.1 186.4L214.1 181.4"/>
<path d="M210.2 178.3L215.2 183.3M210.2 183.3L215.2 178.3"/>
<path d="M215.5 179.3L220.5 184.3M215.5 184.3L220.5 179.3"/>
<path d="M228.6 182.1L233.6 187.1M228.6 187.1L233.6 182.1"/>
<path d="M223.3 180.2L228.3 185.2M223.3 185.2L228.3 180.2"/>
<path d="M225.6 180.9L230.6 185.9M225.6 185.9L230.6 180.9"/>
<path d="M226.8 180.5L231.8 185.5M226.8 185.5L231.8 180.5"/>
<path d="M225.5 181.6L230.5 186.6M225.5 186.6L230.5 181.6"/>
<path d="M225.3 179.5L230.3 184.5M225.3 184.5L230.3 179.5"/>
<path d="M227.0 180.0L232.0 185.0M227.0 185.0L232.0 180.0"/>
<path d="M228.5 182.2L233.5 187.2M228.5 187.2L233.5 182.2"/>
<path d="M228.8 177.0L233.8 182.0M228.8 182.0L233.8 177.0"/>
<path d="M226.5 181.4L231.5 186.4M226.5 186.4L231.5 181.4"/>
<path d="M226.7 183.6L231.7 188.6M226.7 188.6L231.7 183.6"/>
<path d="M227.6 180.9L232.6 185.9M227.6 185.9L232.6 180.9"/>
<path d="M232.8 181.3L237.8 186.3M232.8 186.3L237.8 181.3"/>
<path d="M233.6 182.0L238.6 187.0M233.6 187.0L238.6 182.0"/>
<path d="M230.2 181.4L235.2 186.4M230.2 186.4L235.2 181.4"/>
<path d="M232.2 181.9L237.2 186.9M232.2 186.9L237.2 181.9"/>
<path d="M234.2 178.9L239.2 183.9M234.2 183.9L239.2 178.9"/>
<path d="M231.1 181.8L236.1 186.8M231.1 186.8L236.1 181.8"/>
<path d="M229.5 180.0L234.5 185.0M229.5 185.0L234.5 180.0"/>
<path d="M234.3 179.6L239.3 184.6M234.3 184.6L239.3 179.6"/>
<path d="M233.4 179.6L238.4 184.6M233.4 184.6L238.4 179.6"/>
<path d="M230.9 177.9L235.9 182.9M230.9 182.9L235.9 177.9"/>
<path d="M232.9 174.3L237.9 179.3M232.9 179.3L237.9 174.3"/>
<path d="M235.4 179.4L240.4 184.4M235.4 184.4L240.4 179.4"/>
<path d="M238.7 180.8L243.7 185.8M238.7 185.8L243.7 180.8"/>
<path d="M234.6 174.8L239.6 179.8M234.6 179.8L239.6 174.8"/>
<path d="M231.2 179.4L236.2 184.4M231.2 184.4L236.2 179.4"/>
<path d="M231.9 176.7L236.9 181.7M231.9 181.7L236.9 176.7"/>
<path d="M236.4 180.1L241.4 185.1M236.4 185.1L241.4 180.1"/>
<path d="M239.9 182.5L244.9 187.5M239.9 187.5L244.9 182.5"/>
<path d="M234.8 176.7L239.8 181.7M234.8 181.7L239.8 176.7"/>
<path d="M238.3 175.4L243.3 180.4M238.3 180.4L243.3 175.4"/>
<path d="M237.5 178.7L242.5 183.7M237.5 183.7L242.5 178.7"/>
<path d="M239.7 180.4L244.7 185.4M239.7 185.4L244.7 180.4"/>
<path d="M240.3 173.0L245.3 178.0M240.3 178.0L245.3 173.0"/>
<path d="M238.2 180.0L243.2 185.0M238.2 185.0L243.2 180.0"/>
<path d="M241.8 178.7L246.8 183.7M241.8 183.7L246.8 178.7"/>
<path d="M242.8 177.5L247.8 182.5M242.8 182.5L247.8 177.5"/>
<path d="M245.0 180.2L250.0 185.2M245.0 185.2L250.0 180.2"/>
<path d="M243.8 177.7L248.8 182.7M243.8 182.7L248.8 177.7"/>
<path d="M244.1 179.8L249.1 184.8M244.1 184.8L249.1 179.8"/>
<path d="M250.8 178.7L255.8 183.7M250.8 183.7L255.8 178.7"/>
<path d="M249.1 173.8L254.1 178.8M249.1 178.8L254.1 173.8"/>
<path d="M248.5 185.1L253.5 190.1M248.5 190.1L253.5 185.1"/>
<path d="M249.8 181.8L254.8 186.8M249.8 186.8L254.8 181.8"/>
<path d="M249.7 176.9L254.7 181.9M249.7 181.9L254.7 176.9"/>
<path d="M250.2 184.6L255.2 189.6M250.2 189.6L255.2 184.6"/>
<path d="M252.5 179.6L257.5 184.6M252.5 184.6L257.5 179.6"/>
<path d="M252.1 181.2L257.1 186.2M252.1 186.2L257.1 181.2"/>
<path d="M255.6 179.5L260.6 184.5M255.6 184.5L260.6 179.5"/>
<path d="M255.3 177.8L260.3 182.8M255.3 182.8L260.3 177.8"/>
<path d="M251.5 181.2L256.5 186.2M251.5 186.2L256.5 181.2"/>
<path d="M314.5 155.1L319.5 160.1M314.5 160.1L319.5 155.1"/>
<path d="M314.5 163.1L319.5 168.1M314.5 168.1L319.5 163.1"/>
<path d="M350.5 121.9L355.5 126.9M350.5 126.9L355.5 121.9"/>
<path d="M381.5 111.1L386.5 116.1M381.5 116.1L386.5 111.1"/>
<path d="M424.1 119.9L429.1 124.9M424.1 124.9L429.1 119.9"/>
<path d="M421.9 126.5L426.9 131.5M421.9 131.5L426.9 126.5"/>
<path d="M425.9 131.5L430.9 136.5M425.9 136.5L430.9 131.5"/>
<path d="M453.1 130.9L458.1 135.9M453.1 135.9L458.1 130.9"/>
<path d="M477.1 136.5L482.1 141.5M477.1 141.5L482.1 136.5"/>
<path d="M471.9 143.5L476.9 148.5M471.9 148.5L476.9 143.5"/>
<path d="M480.1 142.9L485.1 147.9M480.1 147.9L485.1 142.9"/>
<path d="M491.3 144.1L496.3 149.1M491.3 149.1L496.3 144.1"/>
<path d="M492.0 147.9L497.0 152.9M492.0 152.9L497.0 147.9"/>
<path d="M495.9 148.9L500.9 153.9M495.9 153.9L500.9 148.9"/>
<path d="M502.5 148.5L507.5 153.5M502.5 153.5L507.5 148.5"/>
<path d="M529.8 27.5L534.8 32.5M529.8 32.5L534.8 27.5"/>
<path d="M529.1 27.8L534.1 32.8M529.1 32.8L534.1 27.8"/>
<path d="M528.7 48.5L533.7 53.5M528.7 53.5L533.7 48.5"/>
<path d="M528.7 61.3L533.7 66.3M528.7 66.3L533.7 61.3"/>
<path d="M528.5 72.5L533.5 77.5M528.5 77.5L533.5 72.5"/>
<path d="M529.0 75.5L534.0 80.5M529.0 80.5L534.0 75.5"/>
<path d="M528.5 77.5L533.5 82.5M528.5 82.5L533.5 77.5"/>
<path d="M529.0 79.5L534.0 84.5M529.0 84.5L534.0 79.5"/>
<path d="M528.5 83.5L533.5 88.5M528.5 88.5L533.5 83.5"/>
<path d="M528.5 92.3L533.5 97.3M528.5 97.3L533.5 92.3"/>
<path d="M528.0 100.1L533.0 105.1M528.0 105.1L533.0 100.1"/>
<path d="M527.5 104.5L532.5 109.5M527.5 109.5L532.5 104.5"/>
<path d="M528.4 108.9L533.4 113.9M528.4 113.9L533.4 108.9"/>
<path d="M526.3 114.1L531.3 119.1M526.3 119.1L531.3 114.1"/>
<path d="M526.0 117.5L531.0 122.5M526.0 122.5L531.0 117.5"/>
<path d="M525.5 121.5L530.5 126.5M525.5 126.5L530.5 121.5"/>
<path d="M524.5 124.5L529.5 129.5M524.5 129.5L529.5 124.5"/>
<path d="M524.5 129.8L529.5 134.8M524.5 134.8L529.5 129.8"/>
<path d="M519.3 132.9L524.3 137.9M519.3 137.9L524.3 132.9"/>
<path d="M517.5 131.5L522.5 136.5M517.5 136.5L522.5 131.5"/>
<path d="M515.0 143.4L520.0 148.4M515.0 148.4L520.0 143.4"/>
<path d="M49.0 288.7L54.0 293.7M49.0 293.7L54.0 288.7"/>
<path d="M49.0 380.5L54.0 385.5M49.0 385.5L54.0 380.5"/>
<path d="M84.8 352.7L89.8 357.7M84.8 357.7L89.8 352.7"/>
<path d="M115.3 355.0L120.3 360.0M115.3 360.0L120.3 355.0"/>
<path d="M157.9 355.1L162.9 360.1M157.9 360.1L162.9 355.1"/>
<path d="M156.1 359.9L161.1 364.9M156.1 364.9L161.1 359.9"/>
<path d="M159.5 366.9L164.5 371.9M159.5 371.9L164.5 366.9"/>
<path d="M215.1 335.5L220.1 340.5M215.1 340.5L220.1 335.5"/>
<path d="M186.7 357.9L191.7 362.9M186.7 362.9L191.7 357.9"/>
<path d="M189.9 363.9L194.9 368.9M189.9 368.9L194.9 363.9"/>
<path d="M183.1 373.9L188.1 378.9M183.1 378.9L188.1 373.9"/>
<path d="M187.5 373.5L192.5 378.5M187.5 378.5L192.5 373.5"/>
<path d="M197.0 364.5L202.0 369.5M197.0 369.5L202.0 364.5"/>
<path d="M203.5 379.1L208.5 384.1M203.5 384.1L208.5 379.1"/>
<path d="M207.5 366.5L212.5 371.5M207.5 371.5L212.5 366.5"/>
<path d="M183.9 387.5L188.9 392.5M183.9 392.5L188.9 387.5"/>
<path d="M195.1 386.9L200.1 391.9M195.1 391.9L200.1 386.9"/>
<path d="M203.2 380.0L208.2 385.0M203.2 385.0L208.2 380.0"/>
<path d="M213.9 377.5L218.9 382.5M213.9 382.5L218.9 377.5"/>
<path d="M201.5 366.5L206.5 371.5M201.5 371.5L206.5 366.5"/>
<path d="M205.5 369.5L210.5 374.5M205.5 374.5L210.5 369.5"/>
<path d="M261.5 319.5L266.5 324.5M261.5 324.5L266.5 319.5"/>
<path d="M262.5 239.8L267.5 244.8M262.5 244.8L267.5 239.8"/>
<path d="M263.5 239.8L268.5 244.8M263.5 244.8L268.5 239.8"/>
<path d="M263.0 239.3L268.0 244.3M263.0 244.3L268.0 239.3"/>
<path d="M261.0 253.5L266.0 258.5M261.0 258.5L266.0 253.5"/>
<path d="M263.6 256.5L268.6 261.5M263.6 261.5L268.6 256.5"/>
<path d="M261.0 259.5L266.0 264.5M261.0 264.5L266.0 259.5"/>
<path d="M263.6 262.5L268.6 267.5M263.6 267.5L268.6 262.5"/>
<path d="M261.0 265.5L266.0 270.5M261.0 270.5L266.0 265.5"/>
<path d="M263.6 268.5L268.6 273.5M263.6 273.5L268.6 268.5"/>
<path d="M261.0 271.5L266.0 276.5M261.0 276.5L266.0 271.5"/>
<path d="M263.6 274.5L268.6 279.5M263.6 279.5L268.6 274.5"/>
<path d="M261.0 277.5L266.0 282.5M261.0 282.5L266.0 277.5"/>
<path d="M263.6 280.5L268.6 285.5M263.6 285.5L268.6 280.5"/>
<path d="M261.0 283.5L266.0 288.5M261.0 288.5L266.0 283.5"/>
<path d="M263.6 286.5L268.6 291.5M263.6 291.5L268.6 286.5"/>
<path d="M262.5 295.8L267.5 300.8M262.5 300.8L267.5 295.8"/>
<path d="M262.0 298.5L267.0 303.5M262.0 303.5L267.0 298.5"/>
<path d="M262.5 302.2L267.5 307.2M262.5 307.2L267.5 302.2"/>
<path d="M261.5 305.5L266.5 310.5M261.5 310.5L266.5 305.5"/>
<path d="M262.0 308.0L267.0 313.0M262.0 313.0L267.0 308.0"/>
<path d="M220.1 368.7L225.1 373.7M220.1 373.7L225.1 368.7"/>
<path d="M223.2 366.8L228.2 371.8M223.2 371.8L228.2 366.8"/>
<path d="M221.5 372.7L226.5 377.7M221.5 377.7L226.5 372.7"/>
<path d="M222.7 369.7L227.7 374.7M222.7 374.7L227.7 369.7"/>
<path d="M219.1 371.3L224.1 376.3M219.1 376.3L224.1 371.3"/>
<path d="M225.6 362.5L230.6 367.5M225.6 367.5L230.6 362.5"/>
<path d="M227.7 364.8L232.7 369.8M227.7 369.8L232.7 364.8"/>
<path d="M229.0 367.5L234.0 372.5M229.0 372.5L234.0 367.5"/>
<path d="M225.6 362.0L230.6 367.0M225.6 367.0L230.6 362.0"/>
<path d="M231.3 367.9L236.3 372.9M231.3 372.9L236.3 367.9"/>
<path d="M224.0 366.4L229.0 371.4M224.0 371.4L229.0 366.4"/>
<path d="M226.4 358.2L231.4 363.2M226.4 363.2L231.4 358.2"/>
<path d="M226.1 363.9L231.1 368.9M226.1 368.9L231.1 363.9"/>
<path d="M226.7 366.8L231.7 371.8M226.7 371.8L231.7 366.8"/>
<path d="M229.6 371.6L234.6 376.6M229.6 376.6L234.6 371.6"/>
<path d="M229.8 371.6L234.8 376.6M229.8 376.6L234.8 371.6"/>
<path d="M228.2 366.0L233.2 371.0M228.2 371.0L233.2 366.0"/>
<path d="M231.5 366.9L236.5 371.9M231.5 371.9L236.5 366.9"/>
<path d="M230.2 367.7L235.2 372.7M230.2 372.7L235.2 367.7"/>
<path d="M233.9 362.4L238.9 367.4M233.9 367.4L238.9 362.4"/>
<path d="M228.5 367.1L233.5 372.1M228.5 372.1L233.5 367.1"/>
<path d="M231.1 366.2L236.1 371.2M231.1 371.2L236.1 366.2"/>
<path d="M233.3 365.0L238.3 370.0M233.3 370.0L238.3 365.0"/>
<path d="M229.2 361.1L234.2 366.1M229.2 366.1L234.2 361.1"/>
<path d="M232.7 367.3L237.7 372.3M232.7 372.3L237.7 367.3"/>
<path d="M227.6 367.4L232.6 372.4M227.6 372.4L232.6 367.4"/>
<path d="M234.5 364.6L239.5 369.6M234.5 369.6L239.5 364.6"/>
<path d="M232.9 359.2L237.9 364.2M232.9 364.2L237.9 359.2"/>
<path d="M234.9 364.9L239.9 369.9M234.9 369.9L239.9 364.9"/>
<path d="M239.6 362.5L244.6 367.5M239.6 367.5L244.6 362.5"/>
<path d="M237.9 364.4L242.9 369.4M237.9 369.4L242.9 364.4"/>
<path d="M237.9 367.6L242.9 372.6M237.9 372.6L242.9 367.6"/>
<path d="M240.7 363.1L245.7 368.1M240.7 368.1L245.7 363.1"/>
<path d="M237.6 361.5L242.6 366.5M237.6 366.5L242.6 361.5"/>
<path d="M242.0 365.8L247.0 370.8M242.0 370.8L247.0 365.8"/>
<path d="M241.3 362.6L246.3 367.6M241.3 367.6L246.3 362.6"/>
<path d="M242.3 361.0L247.3 366.0M242.3 366.0L247.3 361.0"/>
<path d="M242.9 359.8L247.9 364.8M242.9 364.8L247.9 359.8"/>
<path d="M243.8 359.6L248.8 364.6M243.8 364.6L248.8 359.6"/>
<path d="M243.2 360.7L248.2 365.7M243.2 365.7L248.2 360.7"/>
<path d="M247.9 359.1L252.9 364.1M247.9 364.1L252.9 359.1"/>
<path d="M248.2 357.2L253.2 362.2M248.2 362.2L253.2 357.2"/>
<path d="M249.7 357.2L254.7 362.2M249.7 362.2L254.7 357.2"/>
<path d="M251.9 352.6L256.9 357.6M251.9 357.6L256.9 352.6"/>
<path d="M252.2 352.5L257.2 357.5M252.2 357.5L257.2 352.5"/>
<path d="M253.5 351.8L258.5 356.8M253.5 356.8L258.5 351.8"/>
<path d="M251.1 350.4L256.1 355.4M251.1 355.4L256.1 350.4"/>
<path d="M252.5 351.2L257.5 356.2M252.5 356.2L257.5 351.2"/>
<path d="M254.2 350.3L259.2 355.3M254.2 355.3L259.2 350.3"/>
<path d="M258.8 350.1L263.8 355.1M258.8 355.1L263.8 350.1"/>
<path d="M252.9 349.1L257.9 354.1M252.9 354.1L257.9 349.1"/>
<path d="M255.1 344.8L260.1 349.8M255.1 349.8L260.1 344.8"/>
<path d="M252.8 347.1L257.8 352.1M252.8 352.1L257.8 347.1"/>
<path d="M253.3 346.4L258.3 351.4M253.3 351.4L258.3 346.4"/>
<path d="M253.3 344.2L258.3 349.2M253.3 349.2L258.3 344.2"/>
<path d="M257.4 340.6L262.4 345.6M257.4 345.6L262.4 340.6"/>
<path d="M258.3 339.5L263.3 344.5M258.3 344.5L263.3 339.5"/>
<path d="M259.0 337.4L264.0 342.4M259.0 342.4L264.0 337.4"/>
<path d="M260.3 337.2L265.3 342.2M260.3 342.2L265.3 337.2"/>
<path d="M257.6 335.2L262.6 340.2M257.6 340.2L262.6 335.2"/>
<path d="M261.6 335.9L266.6 340.9M261.6 340.9L266.6 335.9"/>
<path d="M255.6 330.6L260.6 335.6M255.6 335.6L260.6 330.6"/>
<path d="M259.1 336.3L264.1 341.3M259.1 341.3L264.1 336.3"/>
<path d="M261.3 331.5L266.3 336.5M261.3 336.5L266.3 331.5"/>
<path d="M257.4 332.8L262.4 337.8M257.4 337.8L262.4 332.8"/>
<path d="M261.5 333.3L266.5 338.3M261.5 338.3L266.5 333.3"/>
<path d="M261.8 326.1L266.8 331.1M261.8 331.1L266.8 326.1"/>
<path d="M259.7 329.9L264.7 334.9M259.7 334.9L264.7 329.9"/>
<path d="M260.8 326.7L265.8 331.7M260.8 331.7L265.8 326.7"/>
<path d="M260.8 325.1L265.8 330.1M260.8 330.1L265.8 325.1"/>
<path d="M263.4 326.2L268.4 331.2M263.4 331.2L268.4 326.2"/>
<path d="M264.0 323.8L269.0 328.8M264.0 328.8L269.0 323.8"/>
<path d="M261.3 323.4L266.3 328.4M261.3 328.4L266.3 323.4"/>
<path d="M258.2 322.5L263.2 327.5M258.2 327.5L263.2 322.5"/>
<path d="M315.5 241.1L320.5 246.1M315.5 246.1L320.5 241.1"/>
<path d="M315.5 384.5L320.5 389.5M315.5 389.5L320.5 384.5"/>
<path d="M351.1 350.9L356.1 355.9M351.1 355.9L356.1 350.9"/>
<path d="M381.9 356.1L386.9 361.1M381.9 361.1L386.9 356.1"/>
<path d="M424.5 353.5L429.5 358.5M424.5 358.5L429.5 353.5"/>
<path d="M422.9 363.1L427.9 368.1M422.9 368.1L427.9 363.1"/>
<path d="M425.9 365.5L430.9 370.5M425.9 370.5L430.9 365.5"/>
<path d="M453.9 362.1L458.9 367.1M453.9 367.1L458.9 362.1"/>
<path d="M473.1 362.5L478.1 367.5M473.1 367.5L478.1 362.5"/>
<path d="M477.5 361.9L482.5 366.9M477.5 366.9L482.5 361.9"/>
<path d="M479.9 364.5L484.9 369.5M479.9 369.5L484.9 364.5"/>
<path d="M491.5 362.5L496.5 367.5M491.5 367.5L496.5 362.5"/>
<path d="M495.5 364.1L500.5 369.1M495.5 369.1L500.5 364.1"/>
<path d="M502.5 363.1L507.5 368.1M502.5 368.1L507.5 363.1"/>
<path d="M529.0 271.9L534.0 276.9M529.0 276.9L534.0 271.9"/>
<path d="M527.9 297.0L532.9 302.0M527.9 302.0L532.9 297.0"/>
<path d="M530.9 298.5L535.9 303.5M530.9 303.5L535.9 298.5"/>
<path d="M527.9 300.0L532.9 305.0M527.9 305.0L532.9 300.0"/>
<path d="M530.9 301.5L535.9 306.5M530.9 306.5L535.9 301.5"/>
<path d="M527.9 303.0L532.9 308.0M527.9 308.0L532.9 303.0"/>
<path d="M530.9 304.5L535.9 309.5M530.9 309.5L535.9 304.5"/>
<path d="M527.9 306.0L532.9 311.0M527.9 311.0L532.9 306.0"/>
<path d="M530.9 307.5L535.9 312.5M530.9 312.5L535.9 307.5"/>
<path d="M527.9 309.0L532.9 314.0M527.9 314.0L532.9 309.0"/>
<path d="M530.9 310.5L535.9 315.5M530.9 315.5L535.9 310.5"/>
<path d="M527.9 312.0L532.9 317.0M527.9 317.0L532.9 312.0"/>
<path d="M530.9 313.5L535.9 318.5M530.9 318.5L535.9 313.5"/>
<path d="M527.9 315.0L532.9 320.0M527.9 320.0L532.9 315.0"/>
<path d="M530.9 316.5L535.9 321.5M530.9 321.5L535.9 316.5"/>
<path d="M527.9 318.0L532.9 323.0M527.9 323.0L532.9 318.0"/>
<path d="M530.9 319.5L535.9 324.5M530.9 324.5L535.9 319.5"/>
<path d="M528.5 322.5L533.5 327.5M528.5 327.5L533.5 322.5"/>
<path d="M528.5 326.5L533.5 331.5M528.5 331.5L533.5 326.5"/>
<path d="M528.5 330.5L533.5 335.5M528.5 335.5L533.5 330.5"/>
<path d="M527.9 337.5L532.9 342.5M527.9 342.5L532.9 337.5"/>
<path d="M527.9 341.5L532.9 346.5M527.9 346.5L532.9 341.5"/>
<path d="M527.5 345.5L532.5 350.5M527.5 350.5L532.5 345.5"/>
<path d="M515.3 351.9L520.3 356.9M515.3 356.9L520.3 351.9"/>
<path d="M519.5 349.5L524.5 354.5M519.5 354.5L524.5 349.5"/>
<path d="M523.0 346.5L528.0 351.5M523.0 351.5L528.0 346.5"/>
<path d="M525.5 350.5L530.5 355.5M525.5 355.5L530.5 350.5"/>
<path d="M521.5 353.5L526.5 358.5M521.5 358.5L526.5 353.5"/>
<path d="M48.7 572.1L53.7 577.1M48.7 577.1L53.7 572.1"/>
<path d="M48.7 584.9L53.7 589.9M48.7 589.9L53.7 584.9"/>
<path d="M84.1 449.9L89.1 454.9M84.1 454.9L89.1 449.9"/>
<path d="M114.9 451.9L119.9 456.9M114.9 456.9L119.9 451.9"/>
<path d="M159.1 453.5L164.1 458.5M159.1 458.5L164.1 453.5"/>
<path d="M155.5 485.5L160.5 490.5M155.5 490.5L160.5 485.5"/>
<path d="M157.5 501.1L162.5 506.1M157.5 506.1L162.5 501.1"/>
<path d="M194.9 424.5L199.9 429.5M194.9 429.5L199.9 424.5"/>
<path d="M202.9 519.1L207.9 524.1M202.9 524.1L207.9 519.1"/>
<path d="M220.5 524.9L225.5 529.9M220.5 529.9L225.5 524.9"/>
<path d="M223.1 525.9L228.1 530.9M223.1 530.9L228.1 525.9"/>
<path d="M186.9 539.9L191.9 544.9M186.9 544.9L191.9 539.9"/>
<path d="M213.9 534.5L218.9 539.5M213.9 539.5L218.9 534.5"/>
<path d="M225.5 539.9L230.5 544.9M225.5 544.9L230.5 539.9"/>
<path d="M240.5 540.5L245.5 545.5M240.5 545.5L245.5 540.5"/>
<path d="M230.5 549.5L235.5 554.5M230.5 554.5L235.5 549.5"/>
<path d="M237.5 549.9L242.5 554.9M237.5 554.9L242.5 549.9"/>
<path d="M235.5 553.5L240.5 558.5M235.5 558.5L240.5 553.5"/>
<path d="M204.9 549.1L209.9 554.1M204.9 554.1L209.9 549.1"/>
<path d="M205.5 551.9L210.5 556.9M205.5 556.9L210.5 551.9"/>
<path d="M210.5 561.1L215.5 566.1M210.5 566.1L215.5 561.1"/>
<path d="M197.1 567.1L202.1 572.1M197.1 572.1L202.1 567.1"/>
<path d="M218.5 560.5L223.5 565.5M218.5 565.5L223.5 560.5"/>
<path d="M215.5 573.5L220.5 578.5M215.5 578.5L220.5 573.5"/>
<path d="M214.5 577.1L219.5 582.1M214.5 582.1L219.5 577.1"/>
<path d="M181.9 573.1L186.9 578.1M181.9 578.1L186.9 573.1"/>
<path d="M185.5 573.5L190.5 578.5M185.5 578.5L190.5 573.5"/>
<path d="M188.5 569.9L193.5 574.9M188.5 574.9L193.5 569.9"/>
<path d="M227.5 559.5L232.5 564.5M227.5 564.5L232.5 559.5"/>
<path d="M228.5 563.5L233.5 568.5M228.5 568.5L233.5 563.5"/>
<path d="M229.5 567.5L234.5 572.5M229.5 572.5L234.5 567.5"/>
<path d="M227.5 571.5L232.5 576.5M227.5 576.5L232.5 571.5"/>
<path d="M230.5 575.5L235.5 580.5M230.5 580.5L235.5 575.5"/>
<path d="M235.5 579.5L240.5 584.5M235.5 584.5L240.5 579.5"/>
<path d="M231.5 576.5L236.5 581.5M231.5 581.5L236.5 576.5"/>
<path d="M236.5 564.5L241.5 569.5M236.5 569.5L241.5 564.5"/>
<path d="M238.5 566.5L243.5 571.5M238.5 571.5L243.5 566.5"/>
<path d="M246.5 561.1L251.5 566.1M246.5 566.1L251.5 561.1"/>
<path d="M247.5 565.5L252.5 570.5M247.5 570.5L252.5 565.5"/>
<path d="M244.5 578.5L249.5 583.5M244.5 583.5L249.5 578.5"/>
<path d="M247.5 583.5L252.5 588.5M247.5 588.5L252.5 583.5"/>
<path d="M252.5 565.5L257.5 570.5M252.5 570.5L257.5 565.5"/>
<path d="M250.5 568.5L255.5 573.5M250.5 573.5L255.5 568.5"/>
<path d="M226.5 574.5L231.5 579.5M226.5 579.5L231.5 574.5"/>
<path d="M229.5 571.5L234.5 576.5M229.5 576.5L234.5 571.5"/>
<path d="M231.5 565.5L236.5 570.5M231.5 570.5L236.5 565.5"/>
<path d="M228.5 578.5L233.5 583.5M228.5 583.5L233.5 578.5"/>
<path d="M233.5 569.5L238.5 574.5M233.5 574.5L238.5 569.5"/>
<path d="M261.8 456.3L266.8 461.3M261.8 461.3L266.8 456.3"/>
<path d="M226.2 561.7L231.2 566.7M226.2 566.7L231.2 561.7"/>
<path d="M229.0 561.8L234.0 566.8M229.0 566.8L234.0 561.8"/>
<path d="M227.7 563.5L232.7 568.5M227.7 568.5L232.7 563.5"/>
<path d="M230.0 563.0L235.0 568.0M230.0 568.0L235.0 563.0"/>
<path d="M228.3 565.9L233.3 570.9M228.3 570.9L233.3 565.9"/>
<path d="M228.5 567.6L233.5 572.6M228.5 572.6L233.5 567.6"/>
<path d="M228.8 569.1L233.8 574.1M228.8 574.1L233.8 569.1"/>
<path d="M233.0 572.6L238.0 577.6M233.0 577.6L238.0 572.6"/>
<path d="M228.7 572.6L233.7 577.6M228.7 577.6L233.7 572.6"/>
<path d="M225.1 577.2L230.1 582.2M225.1 582.2L230.1 577.2"/>
<path d="M234.7 569.5L239.7 574.5M234.7 574.5L239.7 569.5"/>
<path d="M230.2 575.9L235.2 580.9M230.2 580.9L235.2 575.9"/>
<path d="M260.8 468.7L265.8 473.7M260.8 473.7L265.8 468.7"/>
<path d="M262.3 470.1L267.3 475.1M262.3 475.1L267.3 470.1"/>
<path d="M260.7 469.5L265.7 474.5M260.7 474.5L265.7 469.5"/>
<path d="M262.2 471.2L267.2 476.2M262.2 476.2L267.2 471.2"/>
<path d="M261.1 472.3L266.1 477.3M261.1 477.3L266.1 472.3"/>
<path d="M260.3 473.9L265.3 478.9M260.3 478.9L265.3 473.9"/>
<path d="M264.0 477.3L269.0 482.3M264.0 482.3L269.0 477.3"/>
<path d="M260.0 477.2L265.0 482.2M260.0 482.2L265.0 477.2"/>
<path d="M263.8 476.7L268.8 481.7M263.8 481.7L268.8 476.7"/>
<path d="M262.1 476.8L267.1 481.8M262.1 481.8L267.1 476.8"/>
<path d="M262.0 478.4L267.0 483.4M262.0 483.4L267.0 478.4"/>
<path d="M262.0 481.7L267.0 486.7M262.0 486.7L267.0 481.7"/>
<path d="M260.2 480.7L265.2 485.7M260.2 485.7L265.2 480.7"/>
<path d="M262.4 481.8L267.4 486.8M262.4 486.8L267.4 481.8"/>
<path d="M260.9 481.9L265.9 486.9M260.9 486.9L265.9 481.9"/>
<path d="M262.6 483.7L267.6 488.7M262.6 488.7L267.6 483.7"/>
<path d="M261.8 484.6L266.8 489.6M261.8 489.6L266.8 484.6"/>
<path d="M261.6 485.9L266.6 490.9M261.6 490.9L266.6 485.9"/>
<path d="M262.3 488.2L267.3 493.2M262.3 493.2L267.3 488.2"/>
<path d="M262.6 489.4L267.6 494.4M262.6 494.4L267.6 489.4"/>
<path d="M264.0 490.7L269.0 495.7M264.0 495.7L269.0 490.7"/>
<path d="M262.4 490.1L267.4 495.1M262.4 495.1L267.4 490.1"/>
<path d="M263.7 489.9L268.7 494.9M263.7 494.9L268.7 489.9"/>
<path d="M262.0 492.1L267.0 497.1M262.0 497.1L267.0 492.1"/>
<path d="M260.8 492.8L265.8 497.8M260.8 497.8L265.8 492.8"/>
<path d="M258.9 495.0L263.9 500.0M258.9 500.0L263.9 495.0"/>
<path d="M262.0 497.4L267.0 502.4M262.0 502.4L267.0 497.4"/>
<path d="M260.6 495.3L265.6 500.3M260.6 500.3L265.6 495.3"/>
<path d="M264.0 497.4L269.0 502.4M264.0 502.4L269.0 497.4"/>
<path d="M258.8 496.8L263.8 501.8M258.8 501.8L263.8 496.8"/>
<path d="M262.6 499.9L267.6 504.9M262.6 504.9L267.6 499.9"/>
<path d="M260.4 498.6L265.4 503.6M260.4 503.6L265.4 498.6"/>
<path d="M261.6 501.5L266.6 506.5M261.6 506.5L266.6 501.5"/>
<path d="M263.9 500.4L268.9 505.4M263.9 505.4L268.9 500.4"/>
<path d="M264.0 503.3L269.0 508.3M264.0 508.3L269.0 503.3"/>
<path d="M259.8 504.6L264.8 509.6M259.8 509.6L264.8 504.6"/>
<path d="M262.1 505.4L267.1 510.4M262.1 510.4L267.1 505.4"/>
<path d="M263.2 506.0L268.2 511.0M263.2 511.0L268.2 506.0"/>
<path d="M261.1 505.4L266.1 510.4M261.1 510.4L266.1 505.4"/>
<path d="M261.8 509.5L266.8 514.5M261.8 514.5L266.8 509.5"/>
<path d="M262.4 507.8L267.4 512.8M262.4 512.8L267.4 507.8"/>
<path d="M259.7 507.7L264.7 512.7M259.7 512.7L264.7 507.7"/>
<path d="M262.2 510.6L267.2 515.6M262.2 515.6L267.2 510.6"/>
<path d="M262.2 513.4L267.2 518.4M262.2 518.4L267.2 513.4"/>
<path d="M261.3 514.1L266.3 519.1M261.3 519.1L266.3 514.1"/>
<path d="M260.6 517.6L265.6 522.6M260.6 522.6L265.6 517.6"/>
<path d="M259.3 517.4L264.3 522.4M259.3 522.4L264.3 517.4"/>
<path d="M262.6 519.9L267.6 524.9M262.6 524.9L267.6 519.9"/>
<path d="M259.6 519.9L264.6 524.9M259.6 524.9L264.6 519.9"/>
<path d="M260.1 521.7L265.1 526.7M260.1 526.7L265.1 521.7"/>
<path d="M260.8 526.4L265.8 531.4M260.8 531.4L265.8 526.4"/>
<path d="M260.9 525.8L265.9 530.8M260.9 530.8L265.9 525.8"/>
<path d="M262.9 529.6L267.9 534.6M262.9 534.6L267.9 529.6"/>
<path d="M260.0 530.4L265.0 535.4M260.0 535.4L265.0 530.4"/>
<path d="M258.8 529.9L263.8 534.9M258.8 534.9L263.8 529.9"/>
<path d="M259.1 534.0L264.1 539.0M259.1 539.0L264.1 534.0"/>
<path d="M256.9 537.7L261.9 542.7M256.9 542.7L261.9 537.7"/>
<path d="M258.8 537.9L263.8 542.9M258.8 542.9L263.8 537.9"/>
<path d="M261.3 538.5L266.3 543.5M261.3 543.5L266.3 538.5"/>
<path d="M258.1 541.0L263.1 546.0M258.1 546.0L263.1 541.0"/>
<path d="M259.3 540.3L264.3 545.3M259.3 545.3L264.3 540.3"/>
<path d="M258.1 543.4L263.1 548.4M258.1 548.4L263.1 543.4"/>
<path d="M257.4 546.4L262.4 551.4M257.4 551.4L262.4 546.4"/>
<path d="M256.7 549.6L261.7 554.6M256.7 554.6L261.7 549.6"/>
<path d="M257.3 549.9L262.3 554.9M257.3 554.9L262.3 549.9"/>
<path d="M255.4 550.2L260.4 555.2M255.4 555.2L260.4 550.2"/>
<path d="M257.2 552.8L262.2 557.8M257.2 557.8L262.2 552.8"/>
<path d="M254.3 555.6L259.3 560.6M254.3 560.6L259.3 555.6"/>
<path d="M251.7 557.6L256.7 562.6M251.7 562.6L256.7 557.6"/>
<path d="M253.3 556.9L258.3 561.9M253.3 561.9L258.3 556.9"/>
<path d="M314.3 437.5L319.3 442.5M314.3 442.5L319.3 437.5"/>
<path d="M314.3 446.9L319.3 451.9M314.3 451.9L319.3 446.9"/>
<path d="M349.9 471.9L354.9 476.9M349.9 476.9L354.9 471.9"/>
<path d="M380.7 496.5L385.7 501.5M380.7 501.5L385.7 496.5"/>
<path d="M421.5 528.9L426.5 533.9M421.5 533.9L426.5 528.9"/>
<path d="M424.9 529.5L429.9 534.5M424.9 534.5L429.9 529.5"/>
<path d="M423.9 536.9L428.9 541.9M423.9 541.9L428.9 536.9"/>
<path d="M452.5 557.9L457.5 562.9M452.5 562.9L457.5 557.9"/>
<path d="M446.5 573.1L451.5 578.1M446.5 578.1L451.5 573.1"/>
<path d="M449.5 571.9L454.5 576.9M449.5 576.9L454.5 571.9"/>
<path d="M451.5 569.5L456.5 574.5M451.5 574.5L456.5 569.5"/>
<path d="M455.5 565.5L460.5 570.5M455.5 570.5L460.5 565.5"/>
<path d="M461.9 566.5L466.9 571.5M461.9 571.5L466.9 566.5"/>
<path d="M460.5 574.5L465.5 579.5M460.5 579.5L465.5 574.5"/>
<path d="M468.5 574.5L473.5 579.5M468.5 579.5L473.5 574.5"/>
<path d="M470.5 570.5L475.5 575.5M470.5 575.5L475.5 570.5"/>
<path d="M474.5 571.9L479.5 576.9M474.5 576.9L479.5 571.9"/>
<path d="M479.5 576.5L484.5 581.5M479.5 581.5L484.5 576.5"/>
<path d="M482.5 577.5L487.5 582.5M482.5 582.5L487.5 577.5"/>
<path d="M487.8 581.5L492.8 586.5M487.8 586.5L492.8 581.5"/>
<path d="M483.3 580.3L488.3 585.3M483.3 585.3L488.3 580.3"/>
<path d="M483.7 577.8L488.7 582.8M483.7 582.8L488.7 577.8"/>
<path d="M482.2 580.2L487.2 585.2M482.2 585.2L487.2 580.2"/>
<path d="M488.1 580.9L493.1 585.9M488.1 585.9L493.1 580.9"/>
<path d="M486.1 581.9L491.1 586.9M486.1 586.9L491.1 581.9"/>
<path d="M488.7 580.1L493.7 585.1M488.7 585.1L493.7 580.1"/>
<path d="M489.1 580.9L494.1 585.9M489.1 585.9L494.1 580.9"/>
<path d="M491.4 581.0L496.4 586.0M491.4 586.0L496.4 581.0"/>
<path d="M490.6 583.4L495.6 588.4M490.6 588.4L495.6 583.4"/>
<path d="M489.2 584.2L494.2 589.2M489.2 589.2L494.2 584.2"/>
<path d="M491.8 583.2L496.8 588.2M491.8 588.2L496.8 583.2"/>
<path d="M494.2 584.3L499.2 589.3M494.2 589.3L499.2 584.3"/>
<path d="M491.0 582.2L496.0 587.2M491.0 587.2L496.0 582.2"/>
<path d="M499.1 584.3L504.1 589.3M499.1 589.3L504.1 584.3"/>
<path d="M492.7 583.0L497.7 588.0M492.7 588.0L497.7 583.0"/>
<path d="M498.0 582.8L503.0 587.8M498.0 587.8L503.0 582.8"/>
<path d="M495.8 584.5L500.8 589.5M495.8 589.5L500.8 584.5"/>
<path d="M496.6 584.3L501.6 589.3M496.6 589.3L501.6 584.3"/>
<path d="M492.5 585.4L497.5 590.4M492.5 590.4L497.5 585.4"/>
<path d="M495.7 583.5L500.7 588.5M495.7 588.5L500.7 583.5"/>
<path d="M498.5 586.6L503.5 591.6M498.5 591.6L503.5 586.6"/>
<path d="M498.4 583.1L503.4 588.1M498.4 588.1L503.4 583.1"/>
<path d="M505.5 583.4L510.5 588.4M505.5 588.4L510.5 583.4"/>
<path d="M500.1 586.0L505.1 591.0M500.1 591.0L505.1 586.0"/>
<path d="M501.8 584.1L506.8 589.1M501.8 589.1L506.8 584.1"/>
<path d="M498.5 580.8L503.5 585.8M498.5 585.8L503.5 580.8"/>
<path d="M502.5 580.7L507.5 585.7M502.5 585.7L507.5 580.7"/>
<path d="M500.3 583.0L505.3 588.0M500.3 588.0L505.3 583.0"/>
<path d="M503.9 585.3L508.9 590.3M503.9 590.3L508.9 585.3"/>
<path d="M504.6 585.4L509.6 590.4M504.6 590.4L509.6 585.4"/>
<path d="M504.8 583.5L509.8 588.5M504.8 588.5L509.8 583.5"/>
<path d="M507.3 587.2L512.3 592.2M507.3 592.2L512.3 587.2"/>
<path d="M508.6 585.8L513.6 590.8M508.6 590.8L513.6 585.8"/>
<path d="M509.5 582.6L514.5 587.6M509.5 587.6L514.5 582.6"/>
<path d="M509.2 582.9L514.2 587.9M509.2 587.9L514.2 582.9"/>
<path d="M508.9 585.0L513.9 590.0M508.9 590.0L513.9 585.0"/>
<path d="M512.3 587.1L517.3 592.1M512.3 592.1L517.3 587.1"/>
<path d="M511.3 585.6L516.3 590.6M511.3 590.6L516.3 585.6"/>
<path d="M512.2 586.1L517.2 591.1M512.2 591.1L517.2 586.1"/>
<path d="M516.4 587.4L521.4 592.4M516.4 592.4L521.4 587.4"/>
<path d="M512.2 583.5L517.2 588.5M512.2 588.5L517.2 583.5"/>
<path d="M513.1 585.4L518.1 590.4M513.1 590.4L518.1 585.4"/>
<path d="M518.9 584.0L523.9 589.0M518.9 589.0L523.9 584.0"/>
<path d="M515.1 583.7L520.1 588.7M515.1 588.7L520.1 583.7"/>
<path d="M515.6 583.8L520.6 588.8M515.6 588.8L520.6 583.8"/>
<path d="M516.1 583.8L521.1 588.8M516.1 588.8L521.1 583.8"/>
<path d="M517.6 585.1L522.6 590.1M517.6 590.1L522.6 585.1"/>
<path d="M516.3 583.0L521.3 588.0M516.3 588.0L521.3 583.0"/>
<path d="M518.1 582.1L523.1 587.1M518.1 587.1L523.1 582.1"/>
<path d="M516.8 581.9L521.8 586.9M516.8 586.9L521.8 581.9"/>
<path d="M517.0 581.3L522.0 586.3M517.0 586.3L522.0 581.3"/>
<path d="M520.6 583.3L525.6 588.3M520.6 588.3L525.6 583.3"/>
<path d="M520.8 582.0L525.8 587.0M520.8 587.0L525.8 582.0"/>
<path d="M523.7 579.7L528.7 584.7M523.7 584.7L528.7 579.7"/>
<path d="M524.0 581.3L529.0 586.3M524.0 586.3L529.0 581.3"/>
<path d="M524.4 584.9L529.4 589.9M524.4 589.9L529.4 584.9"/>
<path d="M521.7 583.5L526.7 588.5M521.7 588.5L526.7 583.5"/>
<path d="M522.2 582.4L527.2 587.4M522.2 587.4L527.2 582.4"/>
<path d="M526.9 578.6L531.9 583.6M526.9 583.6L531.9 578.6"/>
<path d="M527.1 531.1L532.1 536.1M527.1 536.1L532.1 531.1"/>
<path d="M530.3 531.3L535.3 536.3M530.3 536.3L535.3 531.3"/>
<path d="M528.5 533.5L533.5 538.5M528.5 538.5L533.5 533.5"/>
<path d="M527.2 537.4L532.2 542.4M527.2 542.4L532.2 537.4"/>
<path d="M530.8 534.2L535.8 539.2M530.8 539.2L535.8 534.2"/>
<path d="M527.3 537.2L532.3 542.2M527.3 542.2L532.3 537.2"/>
<path d="M531.9 538.6L536.9 543.6M531.9 543.6L536.9 538.6"/>
<path d="M529.0 539.2L534.0 544.2M529.0 544.2L534.0 539.2"/>
<path d="M528.9 539.2L533.9 544.2M528.9 544.2L533.9 539.2"/>
<path d="M528.5 539.3L533.5 544.3M528.5 544.3L533.5 539.3"/>
<path d="M527.5 539.8L532.5 544.8M527.5 544.8L532.5 539.8"/>
<path d="M528.6 541.4L533.6 546.4M528.6 546.4L533.6 541.4"/>
<path d="M528.7 542.5L533.7 547.5M528.7 547.5L533.7 542.5"/>
<path d="M527.4 543.1L532.4 548.1M527.4 548.1L532.4 543.1"/>
<path d="M529.7 544.8L534.7 549.8M529.7 549.8L534.7 544.8"/>
<path d="M526.9 543.3L531.9 548.3M526.9 548.3L531.9 543.3"/>
<path d="M527.1 544.5L532.1 549.5M527.1 549.5L532.1 544.5"/>
<path d="M530.2 543.6L535.2 548.6M530.2 548.6L535.2 543.6"/>
<path d="M526.9 548.1L531.9 553.1M526.9 553.1L531.9 548.1"/>
<path d="M525.7 550.1L530.7 555.1M525.7 555.1L530.7 550.1"/>
<path d="M528.2 549.8L533.2 554.8M528.2 554.8L533.2 549.8"/>
<path d="M524.5 551.0L529.5 556.0M524.5 556.0L529.5 551.0"/>
<path d="M531.5 549.0L536.5 554.0M531.5 554.0L536.5 549.0"/>
<path d="M530.8 551.9L535.8 556.9M530.8 556.9L535.8 551.9"/>
<path d="M530.0 551.7L535.0 556.7M530.0 556.7L535.0 551.7"/>
<path d="M527.8 551.5L532.8 556.5M527.8 556.5L532.8 551.5"/>
<path d="M530.5 554.0L535.5 559.0M530.5 559.0L535.5 554.0"/>
<path d="M529.8 554.2L534.8 559.2M529.8 559.2L534.8 554.2"/>
<path d="M529.5 551.8L534.5 556.8M529.5 556.8L534.5 551.8"/>
<path d="M530.1 552.9L535.1 557.9M530.1 557.9L535.1 552.9"/>
<path d="M531.2 557.2L536.2 562.2M531.2 562.2L536.2 557.2"/>
<path d="M528.2 556.0L533.2 561.0M528.2 561.0L533.2 556.0"/>
<path d="M530.9 557.1L535.9 562.1M530.9 562.1L535.9 557.1"/>
<path d="M527.0 558.4L532.0 563.4M527.0 563.4L532.0 558.4"/>
<path d="M528.4 561.2L533.4 566.2M528.4 566.2L533.4 561.2"/>
<path d="M530.4 561.9L535.4 566.9M530.4 566.9L535.4 561.9"/>
<path d="M527.4 561.4L532.4 566.4M527.4 566.4L532.4 561.4"/>
<path d="M527.8 561.7L532.8 566.7M527.8 566.7L532.8 561.7"/>
<path d="M529.7 563.3L534.7 568.3M529.7 568.3L534.7 563.3"/>
<path d="M528.4 564.5L533.4 569.5M528.4 569.5L533.4 564.5"/>
<path d="M525.6 563.1L530.6 568.1M525.6 568.1L530.6 563.1"/>
<path d="M526.5 564.2L531.5 569.2M526.5 569.2L531.5 564.2"/>
<path d="M528.2 564.0L533.2 569.0M528.2 569.0L533.2 564.0"/>
<path d="M527.3 565.5L532.3 570.5M527.3 570.5L532.3 565.5"/>
<path d="M528.8 568.3L533.8 573.3M528.8 573.3L533.8 568.3"/>
<path d="M527.0 569.5L532.0 574.5M527.0 574.5L532.0 569.5"/>
<path d="M526.7 571.0L531.7 576.0M526.7 576.0L531.7 571.0"/>
<path d="M526.8 568.9L531.8 573.9M526.8 573.9L531.8 568.9"/>
<path d="M530.1 570.2L535.1 575.2M530.1 575.2L535.1 570.2"/>
<path d="M529.0 572.0L534.0 577.0M529.0 577.0L534.0 572.0"/>
<path d="M528.1 572.6L533.1 577.6M528.1 577.6L533.1 572.6"/>
<path d="M526.1 573.7L531.1 578.7M526.1 578.7L531.1 573.7"/>
<path d="M529.3 577.1L534.3 582.1M529.3 582.1L534.3 577.1"/>
<path d="M529.5 575.7L534.5 580.7M529.5 580.7L534.5 575.7"/>
<path d="M527.6 573.2L532.6 578.2M527.6 578.2L532.6 573.2"/>
<path d="M529.5 574.6L534.5 579.6M529.5 579.6L534.5 574.6"/>
<path d="M528.5 574.4L533.5 579.4M528.5 579.4L533.5 574.4"/>
<path d="M529.2 575.2L534.2 580.2M529.2 580.2L534.2 575.2"/>
<path d="M531.0 580.8L536.0 585.8M531.0 585.8L536.0 580.8"/>
<path d="M528.8 576.7L533.8 581.7M528.8 581.7L533.8 576.7"/>
<path d="M530.7 579.4L535.7 584.4M530.7 584.4L535.7 579.4"/>
<path d="M529.3 577.6L534.3 582.6M529.3 582.6L534.3 577.6"/>
<path d="M527.2 582.6L532.2 587.6M527.2 587.6L532.2 582.6"/>
<path d="M528.3 580.9L533.3 585.9M528.3 585.9L533.3 580.9"/>
<path d="M527.0 582.4L532.0 587.4M527.0 587.4L532.0 582.4"/>
<path d="M529.3 580.8L534.3 585.8M529.3 585.8L534.3 580.8"/>
<path d="M527.5 584.9L532.5 589.9M527.5 589.9L532.5 584.9"/>
<path d="M529.9 586.7L534.9 591.7M529.9 591.7L534.9 586.7"/>
<path d="M531.8 587.9L536.8 592.9M531.8 592.9L536.8 587.9"/>
<path d="M522.7 572.1L527.7 577.1M522.7 577.1L527.7 572.1"/>
<path d="M523.5 576.8L528.5 581.8M523.5 581.8L528.5 576.8"/>
<path d="M524.0 573.7L529.0 578.7M524.0 578.7L529.0 573.7"/>
<path d="M523.4 571.6L528.4 576.6M523.4 576.6L528.4 571.6"/>
<path d="M525.3 573.7L530.3 578.7M525.3 578.7L530.3 573.7"/>
<path d="M523.6 576.5L528.6 581.5M523.6 581.5L528.6 576.5"/>
<path d="M524.1 576.3L529.1 581.3M524.1 581.3L529.1 576.3"/>
<path d="M522.3 575.0L527.3 580.0M522.3 580.0L527.3 575.0"/>
<path d="M522.7 576.2L527.7 581.2M522.7 581.2L527.7 576.2"/>
<path d="M523.2 575.4L528.2 580.4M523.2 580.4L528.2 575.4"/>
<path d="M523.8 577.3L528.8 582.3M523.8 582.3L528.8 577.3"/>
<path d="M520.3 576.6L525.3 581.6M520.3 581.6L525.3 576.6"/>
<path d="M520.2 577.9L525.2 582.9M520.2 582.9L525.2 577.9"/>
<path d="M520.7 576.9L525.7 581.9M520.7 581.9L525.7 576.9"/>
<path d="M520.0 578.5L525.0 583.5M520.0 583.5L525.0 578.5"/>
<path d="M522.7 581.3L527.7 586.3M522.7 586.3L527.7 581.3"/>
<path d="M521.8 580.2L526.8 585.2M521.8 585.2L526.8 580.2"/>
<path d="M521.5 578.4L526.5 583.4M521.5 583.4L526.5 578.4"/>
</g>
<path d="M316.9 442.2L530.5 590.6" stroke="#4f8fe8" stroke-width="1.05" fill="none"/>
<g>
<text x="41.0" y="193.0" text-anchor="end">0</text>
<text x="41.0" y="163.7" text-anchor="end">5</text>
<text x="41.0" y="134.3" text-anchor="end">10</text>
<text x="41.0" y="105.0" text-anchor="end">15</text>
<text x="41.0" y="75.7" text-anchor="end">20</text>
<text x="41.0" y="46.3" text-anchor="end">25</text>
<text x="41.0" y="17.0" text-anchor="end">30</text>
<text x="307.0" y="189.7" text-anchor="end">0</text>
<text x="307.0" y="172.1" text-anchor="end">5</text>
<text x="307.0" y="154.5" text-anchor="end">10</text>
<text x="307.0" y="137.0" text-anchor="end">15</text>
<text x="307.0" y="119.4" text-anchor="end">20</text>
<text x="307.0" y="101.8" text-anchor="end">25</text>
<text x="307.0" y="84.2" text-anchor="end">30</text>
<text x="307.0" y="66.6" text-anchor="end">35</text>
<text x="307.0" y="49.1" text-anchor="end">40</text>
<text x="307.0" y="31.5" text-anchor="end">45</text>
<text x="307.0" y="13.9" text-anchor="end">50</text>
<text x="41.0" y="394.6" text-anchor="end">0.0</text>
<text x="41.0" y="369.6" text-anchor="end">0.5</text>
<text x="41.0" y="344.6" text-anchor="end">1.0</text>
<text x="41.0" y="319.6" text-anchor="end">1.5</text>
<text x="41.0" y="294.7" text-anchor="end">2.0</text>
<text x="41.0" y="269.7" text-anchor="end">2.5</text>
<text x="41.0" y="244.7" text-anchor="end">3.0</text>
<text x="41.0" y="219.7" text-anchor="end">3.5</text>
<text x="307.0" y="394.7" text-anchor="end">0</text>
<text x="307.0" y="369.7" text-anchor="end">1</text>
<text x="307.0" y="344.7" text-anchor="end">2</text>
<text x="307.0" y="319.7" text-anchor="end">3</text>
<text x="307.0" y="294.7" text-anchor="end">4</text>
<text x="307.0" y="269.7" text-anchor="end">5</text>
<text x="307.0" y="244.7" text-anchor="end">6</text>
<text x="307.0" y="219.7" text-anchor="end">7</text>
<text x="41.0" y="596.6" text-anchor="end">0</text>
<text x="41.0" y="577.2" text-anchor="end">2</text>
<text x="41.0" y="557.9" text-anchor="end">4</text>
<text x="41.0" y="538.5" text-anchor="end">6</text>
<text x="41.0" y="519.1" text-anchor="end">8</text>
<text x="41.0" y="499.8" text-anchor="end">10</text>
<text x="41.0" y="480.4" text-anchor="end">12</text>
<text x="41.0" y="461.0" text-anchor="end">14</text>
<text x="41.0" y="441.7" text-anchor="end">16</text>
<text x="41.0" y="422.3" text-anchor="end">18</text>
<text x="51.0" y="610.7" text-anchor="middle">0</text>
<text x="83.3" y="610.7" text-anchor="middle">5</text>
<text x="115.5" y="610.7" text-anchor="middle">10</text>
<text x="147.8" y="610.7" text-anchor="middle">15</text>
<text x="180.0" y="610.7" text-anchor="middle">20</text>
<text x="212.3" y="610.7" text-anchor="middle">25</text>
<text x="244.5" y="610.7" text-anchor="middle">30</text>
<text x="271.0" y="610.7">3</text>
<text x="306.5" y="596.2" text-anchor="end">0</text>
<text x="306.5" y="576.8" text-anchor="end">20</text>
<text x="306.5" y="557.4" text-anchor="end">40</text>
<text x="306.5" y="538.1" text-anchor="end">60</text>
<text x="306.5" y="518.7" text-anchor="end">80</text>
<text x="306.5" y="499.3" text-anchor="end">100</text>
<text x="306.5" y="479.9" text-anchor="end">120</text>
<text x="306.5" y="460.6" text-anchor="end">140</text>
<text x="306.5" y="441.2" text-anchor="end">160</text>
<text x="306.5" y="421.8" text-anchor="end">180</text>
<text x="316.7" y="610.3" text-anchor="middle">0</text>
<text x="349.1" y="610.3" text-anchor="middle">5</text>
<text x="381.5" y="610.3" text-anchor="middle">10</text>
<text x="413.9" y="610.3" text-anchor="middle">15</text>
<text x="446.4" y="610.3" text-anchor="middle">20</text>
<text x="478.8" y="610.3" text-anchor="middle">25</text>
<text x="511.2" y="610.3" text-anchor="middle">30</text>
<text x="543.6" y="610.3" text-anchor="middle">35</text>
<text x="149.6" y="17.8" style="font-size:13.3px">DIN</text>
<text x="77.0" y="29.2" font-weight="bold">- Surface</text>
<text x="77.0" y="48.6" font-weight="bold">- Bottom</text>
<text x="90.8" y="100.5">HTW</text>
<text x="87.4" y="112.6">3 – 14 psu</text>
<text x="67.0" y="160.2">Tidal region</text>
<text x="67.5" y="182.6">River water</text>
<text x="250.0" y="93.5" transform="rotate(-90 250.0 93.5)">Shelikhov Gulf</text>
<text x="18.0" y="95.5" transform="rotate(-90 18.0 95.5)">μM</text>
<text x="416.0" y="21.7" style="font-size:13.3px">N<tspan style="font-size:8.5px" dy="3.2">tot</tspan></text>
<text x="332.4" y="159.8">River water</text>
<text x="518.5" y="96.8" transform="rotate(-90 518.5 96.8)">Shelikhov Gulf</text>
<text x="287.3" y="94.6" transform="rotate(-90 287.3 94.6)">μM</text>
<text x="150.6" y="235.3" style="font-size:13.3px">DIP</text>
<text x="58.3" y="279.3">Tidal region</text>
<text x="93.2" y="324.6">HTW</text>
<text x="87.6" y="336.3">3 – 14 psu</text>
<text x="64.0" y="382.5">River water</text>
<text x="255.0" y="306.8" transform="rotate(-90 255.0 306.8)">Shelikhov Gulf</text>
<text x="14.2" y="296.0" transform="rotate(-90 14.2 296.0)">μM</text>
<text x="424.6" y="232.2" style="font-size:13.3px">P<tspan style="font-size:8.5px" dy="3.4">tot</tspan></text>
<text x="333.0" y="244.6">Tidal region</text>
<text x="333.6" y="383.2">River water</text>
<text x="522.0" y="311.3" transform="rotate(-90 522.0 311.3)">Shelikhov Gulf</text>
<text x="289.5" y="293.0" transform="rotate(-90 289.5 293.0)">μM</text>
<text x="148.9" y="429.1" style="font-size:13.3px">N/P</text>
<text x="83.0" y="418.8">HTW</text>
<text x="76.6" y="431.2">3 – 14 psu</text>
<text x="62.0" y="542.2">River water</text>
<text x="61.6" y="585.8">Tidal region</text>
<text x="247.8" y="523.2" transform="rotate(-90 247.8 523.2)">Shelikhov Gulf</text>
<text x="135.8" y="624.4">Salinity</text>
<text x="423.0" y="433.0" style="font-size:13.3px">DSi</text>
<text x="519.5" y="523.8" transform="rotate(-90 519.5 523.8)">Shelikhov Gulf</text>
<text x="282.6" y="500.5" transform="rotate(-90 282.6 500.5)">μM</text>
<text x="415.8" y="623.8">Salinity</text>
<text x="382.0" y="482.6" transform="rotate(34.8 382.0 482.6)">Conservative mixing line</text>
</g>
</svg>
</body></html>
